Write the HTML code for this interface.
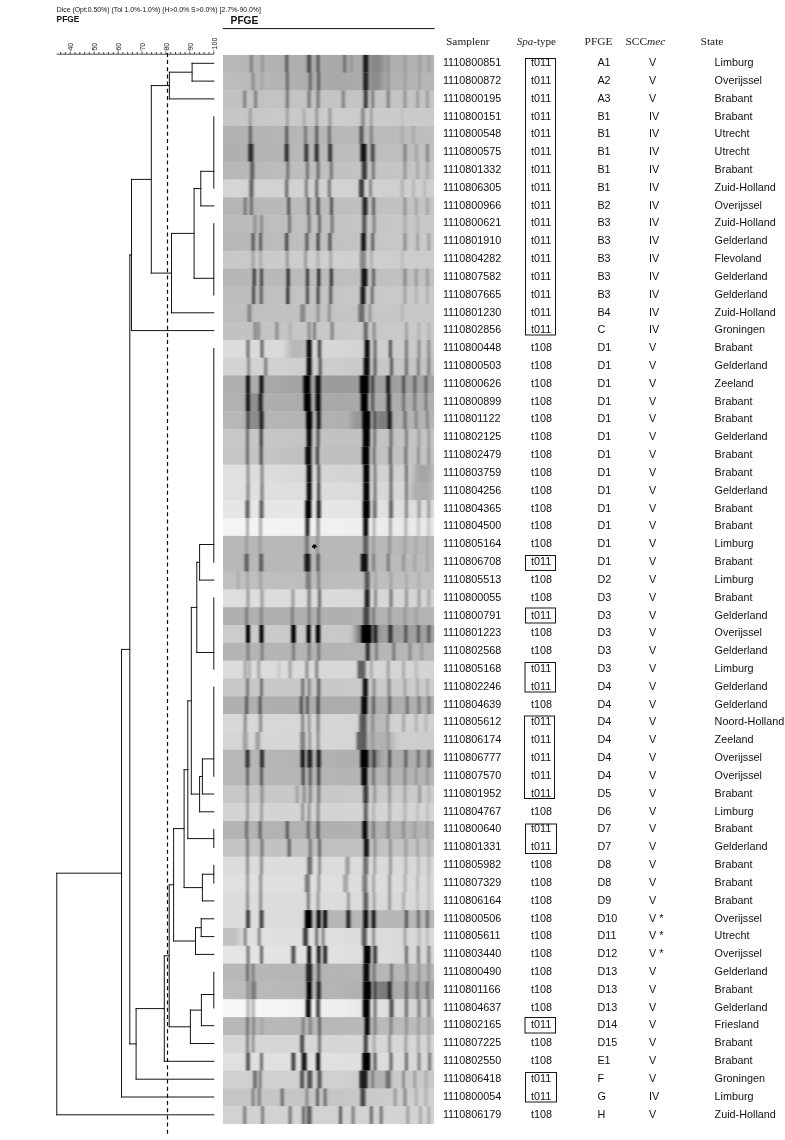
<!DOCTYPE html>
<html><head><meta charset="utf-8"><title>PFGE dendrogram</title>
<style>
html,body{margin:0;padding:0;background:#fff;}
body{width:785px;height:1140px;overflow:hidden;}
svg{display:block;font-family:"Liberation Sans",sans-serif;}
</style></head><body>
<svg width="785" height="1140" viewBox="0 0 785 1140">
<rect width="785" height="1140" fill="#fff"/>
<text x="56.8" y="12.0" font-size="6.3" fill="#111" textLength="204.0" lengthAdjust="spacingAndGlyphs">Dice (Opt:0.50%) (Tol 1.0%-1.0%) (H&gt;0.0% S&gt;0.0%) [2.7%-90.0%]</text><text x="56.6" y="21.8" font-size="8.4" font-weight="bold" fill="#111">PFGE</text><text x="230.6" y="23.8" font-size="10.2" font-weight="bold" fill="#111">PFGE</text><path d="M222.8 28.6L434.6 28.6" stroke="#111" stroke-width="1"/>
<path d="M56.6 54.2L213.8 54.2M60.6 54.2L60.6 52.0M65.4 54.2L65.4 52.0M70.2 54.2L70.2 52.0M75.0 54.2L75.0 52.0M79.8 54.2L79.8 52.0M84.6 54.2L84.6 52.0M89.3 54.2L89.3 52.0M94.1 54.2L94.1 52.0M98.9 54.2L98.9 52.0M103.7 54.2L103.7 52.0M108.5 54.2L108.5 52.0M113.3 54.2L113.3 52.0M118.1 54.2L118.1 52.0M122.8 54.2L122.8 52.0M127.6 54.2L127.6 52.0M132.4 54.2L132.4 52.0M137.2 54.2L137.2 52.0M142.0 54.2L142.0 52.0M146.8 54.2L146.8 52.0M151.6 54.2L151.6 52.0M156.3 54.2L156.3 52.0M161.1 54.2L161.1 52.0M165.9 54.2L165.9 52.0M170.7 54.2L170.7 52.0M175.5 54.2L175.5 52.0M180.3 54.2L180.3 52.0M185.1 54.2L185.1 52.0M189.8 54.2L189.8 52.0M194.6 54.2L194.6 52.0M199.4 54.2L199.4 52.0M204.2 54.2L204.2 52.0M209.0 54.2L209.0 52.0M213.8 54.2L213.8 52.0" stroke="#222" stroke-width="0.8" fill="none"/><path d="M70.2 52.2L70.2 49.6M94.1 52.2L94.1 49.6M118.1 52.2L118.1 49.6M142.0 52.2L142.0 49.6M165.9 52.2L165.9 49.6M189.8 52.2L189.8 49.6M213.8 52.2L213.8 49.6" stroke="#888" stroke-width="0.8" fill="none"/><text transform="translate(73.1 50.6) rotate(-90)" font-size="7" fill="#222">40</text><text transform="translate(97.0 50.6) rotate(-90)" font-size="7" fill="#222">50</text><text transform="translate(121.0 50.6) rotate(-90)" font-size="7" fill="#222">60</text><text transform="translate(144.9 50.6) rotate(-90)" font-size="7" fill="#222">70</text><text transform="translate(168.8 50.6) rotate(-90)" font-size="7" fill="#222">80</text><text transform="translate(192.8 50.6) rotate(-90)" font-size="7" fill="#222">90</text><text transform="translate(216.7 49.4) rotate(-90)" font-size="7" fill="#222">100</text>
<path d="M192.1 63.3L192.1 81.1M192.1 63.3L213.8 63.3M192.1 81.1L213.8 81.1M169.4 72.2L169.4 98.9M169.4 72.2L192.1 72.2M169.4 98.9L213.8 98.9M213.8 116.8L213.8 188.1M200.8 171.3L200.8 205.9M200.8 171.3L213.8 171.3M200.8 205.9L213.8 205.9M213.8 223.7L213.8 295.0M194.1 188.6L194.1 278.3M194.1 188.6L200.8 188.6M194.1 278.3L213.8 278.3M171.5 233.4L171.5 312.8M171.5 233.4L194.1 233.4M171.5 312.8L213.8 312.8M151.3 85.6L151.3 273.1M151.3 85.6L169.4 85.6M151.3 273.1L171.5 273.1M131.5 179.4L131.5 330.6M131.5 179.4L151.3 179.4M131.5 330.6L213.8 330.6M213.8 348.5L213.8 562.3M199.6 544.5L199.6 580.1M199.6 544.5L213.8 544.5M199.6 580.1L213.8 580.1M213.8 598.0L213.8 669.2M196.8 562.3L196.8 652.5M196.8 562.3L199.6 562.3M196.8 652.5L213.8 652.5M213.8 687.1L213.8 776.2M202.4 758.9L202.4 794.0M202.4 758.9L213.8 758.9M202.4 794.0L213.8 794.0M199.6 776.5L199.6 811.8M199.6 776.5L202.4 776.5M199.6 811.8L213.8 811.8M191.3 607.4L191.3 794.1M191.3 607.4L196.8 607.4M191.3 794.1L199.6 794.1M213.8 829.6L213.8 847.5M187.8 700.8L187.8 838.6M187.8 700.8L191.3 700.8M187.8 838.6L213.8 838.6M213.8 865.3L213.8 883.1M202.4 874.2L202.4 900.9M202.4 874.2L213.8 874.2M202.4 900.9L213.8 900.9M184.1 769.7L184.1 887.6M184.1 769.7L187.8 769.7M184.1 887.6L202.4 887.6M201.2 918.8L201.2 936.6M201.2 918.8L213.8 918.8M201.2 936.6L213.8 936.6M195.5 927.7L195.5 954.4M195.5 927.7L201.2 927.7M195.5 954.4L213.8 954.4M173.6 828.6L173.6 941.0M173.6 828.6L184.1 828.6M173.6 941.0L195.5 941.0M213.8 972.2L213.8 1007.9M201.4 994.5L201.4 1025.7M201.4 994.5L213.8 994.5M201.4 1025.7L213.8 1025.7M190.4 1010.1L190.4 1043.5M190.4 1010.1L201.4 1010.1M190.4 1043.5L213.8 1043.5M169.2 884.8L169.2 1026.8M169.2 884.8L173.6 884.8M169.2 1026.8L190.4 1026.8M164.3 955.8L164.3 1061.3M164.3 955.8L169.2 955.8M164.3 1061.3L213.8 1061.3M136.1 1008.6L136.1 1079.2M136.1 1008.6L164.3 1008.6M136.1 1079.2L213.8 1079.2M129.8 255.0L129.8 1043.9M129.8 255.0L131.5 255.0M129.8 1043.9L136.1 1043.9M121.5 649.4L121.5 1097.0M121.5 649.4L129.8 649.4M121.5 1097.0L213.8 1097.0M56.8 873.2L56.8 1114.8M56.8 873.2L121.5 873.2M56.8 1114.8L213.8 1114.8" stroke="#141414" stroke-width="1.0" fill="none" stroke-linecap="square"/>
<path d="M167.5 52.9L167.5 1133.8" stroke="#0a0a0a" stroke-width="1.2" stroke-dasharray="4 3.179" fill="none"/>
<defs><filter id="bl" x="-5%" y="-1%" width="110%" height="102%"><feGaussianBlur stdDeviation="1.05 0.35"/></filter><filter id="bl2" x="-5%" y="-1%" width="110%" height="102%"><feGaussianBlur stdDeviation="3 0.6"/></filter><linearGradient id="g0" gradientUnits="userSpaceOnUse" x1="235" x2="425" y1="0" y2="0"><stop offset="0" stop-color="rgb(184,184,184)"/><stop offset="0.55" stop-color="rgb(168,168,168)"/><stop offset="1" stop-color="rgb(180,180,180)"/></linearGradient><linearGradient id="g1" gradientUnits="userSpaceOnUse" x1="235" x2="425" y1="0" y2="0"><stop offset="0" stop-color="rgb(188,188,188)"/><stop offset="0.55" stop-color="rgb(168,168,168)"/><stop offset="1" stop-color="rgb(182,182,182)"/></linearGradient><linearGradient id="g2" gradientUnits="userSpaceOnUse" x1="235" x2="425" y1="0" y2="0"><stop offset="0" stop-color="rgb(194,194,194)"/><stop offset="0.55" stop-color="rgb(196,196,196)"/><stop offset="1" stop-color="rgb(196,196,196)"/></linearGradient><linearGradient id="g3" gradientUnits="userSpaceOnUse" x1="235" x2="425" y1="0" y2="0"><stop offset="0" stop-color="rgb(198,198,198)"/><stop offset="0.55" stop-color="rgb(204,204,204)"/><stop offset="1" stop-color="rgb(202,202,202)"/></linearGradient><linearGradient id="g4" gradientUnits="userSpaceOnUse" x1="235" x2="425" y1="0" y2="0"><stop offset="0" stop-color="rgb(178,178,178)"/><stop offset="0.55" stop-color="rgb(184,184,184)"/><stop offset="1" stop-color="rgb(190,190,190)"/></linearGradient><linearGradient id="g5" gradientUnits="userSpaceOnUse" x1="235" x2="425" y1="0" y2="0"><stop offset="0" stop-color="rgb(176,176,176)"/><stop offset="0.55" stop-color="rgb(188,188,188)"/><stop offset="1" stop-color="rgb(192,192,192)"/></linearGradient><linearGradient id="g6" gradientUnits="userSpaceOnUse" x1="235" x2="425" y1="0" y2="0"><stop offset="0" stop-color="rgb(184,184,184)"/><stop offset="0.55" stop-color="rgb(194,194,194)"/><stop offset="1" stop-color="rgb(198,198,198)"/></linearGradient><linearGradient id="g7" gradientUnits="userSpaceOnUse" x1="235" x2="425" y1="0" y2="0"><stop offset="0" stop-color="rgb(210,210,210)"/><stop offset="0.55" stop-color="rgb(210,210,210)"/><stop offset="1" stop-color="rgb(206,206,206)"/></linearGradient><linearGradient id="g8" gradientUnits="userSpaceOnUse" x1="235" x2="425" y1="0" y2="0"><stop offset="0" stop-color="rgb(182,182,182)"/><stop offset="0.55" stop-color="rgb(190,190,190)"/><stop offset="1" stop-color="rgb(196,196,196)"/></linearGradient><linearGradient id="g9" gradientUnits="userSpaceOnUse" x1="235" x2="425" y1="0" y2="0"><stop offset="0" stop-color="rgb(186,186,186)"/><stop offset="0.55" stop-color="rgb(196,196,196)"/><stop offset="1" stop-color="rgb(200,200,200)"/></linearGradient><linearGradient id="g10" gradientUnits="userSpaceOnUse" x1="235" x2="425" y1="0" y2="0"><stop offset="0" stop-color="rgb(184,184,184)"/><stop offset="0.55" stop-color="rgb(194,194,194)"/><stop offset="1" stop-color="rgb(202,202,202)"/></linearGradient><linearGradient id="g11" gradientUnits="userSpaceOnUse" x1="235" x2="425" y1="0" y2="0"><stop offset="0" stop-color="rgb(200,200,200)"/><stop offset="0.55" stop-color="rgb(208,208,208)"/><stop offset="1" stop-color="rgb(204,204,204)"/></linearGradient><linearGradient id="g12" gradientUnits="userSpaceOnUse" x1="235" x2="425" y1="0" y2="0"><stop offset="0" stop-color="rgb(182,182,182)"/><stop offset="0.55" stop-color="rgb(190,190,190)"/><stop offset="1" stop-color="rgb(194,194,194)"/></linearGradient><linearGradient id="g13" gradientUnits="userSpaceOnUse" x1="235" x2="425" y1="0" y2="0"><stop offset="0" stop-color="rgb(188,188,188)"/><stop offset="0.55" stop-color="rgb(198,198,198)"/><stop offset="1" stop-color="rgb(202,202,202)"/></linearGradient><linearGradient id="g14" gradientUnits="userSpaceOnUse" x1="235" x2="425" y1="0" y2="0"><stop offset="0" stop-color="rgb(190,190,190)"/><stop offset="0.55" stop-color="rgb(196,196,196)"/><stop offset="1" stop-color="rgb(200,200,200)"/></linearGradient><linearGradient id="g15" gradientUnits="userSpaceOnUse" x1="235" x2="425" y1="0" y2="0"><stop offset="0" stop-color="rgb(194,194,194)"/><stop offset="0.55" stop-color="rgb(200,200,200)"/><stop offset="1" stop-color="rgb(202,202,202)"/></linearGradient><linearGradient id="g16" gradientUnits="userSpaceOnUse" x1="235" x2="425" y1="0" y2="0"><stop offset="0" stop-color="rgb(220,220,220)"/><stop offset="0.55" stop-color="rgb(214,214,214)"/><stop offset="1" stop-color="rgb(200,200,200)"/></linearGradient><linearGradient id="g17" gradientUnits="userSpaceOnUse" x1="235" x2="425" y1="0" y2="0"><stop offset="0" stop-color="rgb(212,212,212)"/><stop offset="0.55" stop-color="rgb(204,204,204)"/><stop offset="1" stop-color="rgb(196,196,196)"/></linearGradient><linearGradient id="g18" gradientUnits="userSpaceOnUse" x1="235" x2="425" y1="0" y2="0"><stop offset="0" stop-color="rgb(176,176,176)"/><stop offset="0.55" stop-color="rgb(154,154,154)"/><stop offset="1" stop-color="rgb(164,164,164)"/></linearGradient><linearGradient id="g19" gradientUnits="userSpaceOnUse" x1="235" x2="425" y1="0" y2="0"><stop offset="0" stop-color="rgb(178,178,178)"/><stop offset="0.55" stop-color="rgb(168,168,168)"/><stop offset="1" stop-color="rgb(176,176,176)"/></linearGradient><linearGradient id="g20" gradientUnits="userSpaceOnUse" x1="235" x2="425" y1="0" y2="0"><stop offset="0" stop-color="rgb(184,184,184)"/><stop offset="0.55" stop-color="rgb(176,176,176)"/><stop offset="1" stop-color="rgb(180,180,180)"/></linearGradient><linearGradient id="g21" gradientUnits="userSpaceOnUse" x1="235" x2="425" y1="0" y2="0"><stop offset="0" stop-color="rgb(200,200,200)"/><stop offset="0.55" stop-color="rgb(194,194,194)"/><stop offset="1" stop-color="rgb(196,196,196)"/></linearGradient><linearGradient id="g22" gradientUnits="userSpaceOnUse" x1="235" x2="425" y1="0" y2="0"><stop offset="0" stop-color="rgb(198,198,198)"/><stop offset="0.55" stop-color="rgb(190,190,190)"/><stop offset="1" stop-color="rgb(196,196,196)"/></linearGradient><linearGradient id="g23" gradientUnits="userSpaceOnUse" x1="235" x2="425" y1="0" y2="0"><stop offset="0" stop-color="rgb(224,224,224)"/><stop offset="0.55" stop-color="rgb(212,212,212)"/><stop offset="1" stop-color="rgb(208,208,208)"/></linearGradient><linearGradient id="g24" gradientUnits="userSpaceOnUse" x1="235" x2="425" y1="0" y2="0"><stop offset="0" stop-color="rgb(224,224,224)"/><stop offset="0.55" stop-color="rgb(220,220,220)"/><stop offset="1" stop-color="rgb(212,212,212)"/></linearGradient><linearGradient id="g25" gradientUnits="userSpaceOnUse" x1="235" x2="425" y1="0" y2="0"><stop offset="0" stop-color="rgb(230,230,230)"/><stop offset="0.55" stop-color="rgb(230,230,230)"/><stop offset="1" stop-color="rgb(220,220,220)"/></linearGradient><linearGradient id="g26" gradientUnits="userSpaceOnUse" x1="235" x2="425" y1="0" y2="0"><stop offset="0" stop-color="rgb(244,244,244)"/><stop offset="0.55" stop-color="rgb(240,240,240)"/><stop offset="1" stop-color="rgb(232,232,232)"/></linearGradient><linearGradient id="g27" gradientUnits="userSpaceOnUse" x1="235" x2="425" y1="0" y2="0"><stop offset="0" stop-color="rgb(184,184,184)"/><stop offset="0.55" stop-color="rgb(184,184,184)"/><stop offset="1" stop-color="rgb(184,184,184)"/></linearGradient><linearGradient id="g28" gradientUnits="userSpaceOnUse" x1="235" x2="425" y1="0" y2="0"><stop offset="0" stop-color="rgb(184,184,184)"/><stop offset="0.55" stop-color="rgb(184,184,184)"/><stop offset="1" stop-color="rgb(188,188,188)"/></linearGradient><linearGradient id="g29" gradientUnits="userSpaceOnUse" x1="235" x2="425" y1="0" y2="0"><stop offset="0" stop-color="rgb(192,192,192)"/><stop offset="0.55" stop-color="rgb(188,188,188)"/><stop offset="1" stop-color="rgb(192,192,192)"/></linearGradient><linearGradient id="g30" gradientUnits="userSpaceOnUse" x1="235" x2="425" y1="0" y2="0"><stop offset="0" stop-color="rgb(222,222,222)"/><stop offset="0.55" stop-color="rgb(218,218,218)"/><stop offset="1" stop-color="rgb(212,212,212)"/></linearGradient><linearGradient id="g31" gradientUnits="userSpaceOnUse" x1="235" x2="425" y1="0" y2="0"><stop offset="0" stop-color="rgb(176,176,176)"/><stop offset="0.55" stop-color="rgb(176,176,176)"/><stop offset="1" stop-color="rgb(180,180,180)"/></linearGradient><linearGradient id="g32" gradientUnits="userSpaceOnUse" x1="235" x2="425" y1="0" y2="0"><stop offset="0" stop-color="rgb(204,204,204)"/><stop offset="0.55" stop-color="rgb(200,200,200)"/><stop offset="1" stop-color="rgb(200,200,200)"/></linearGradient><linearGradient id="g33" gradientUnits="userSpaceOnUse" x1="235" x2="425" y1="0" y2="0"><stop offset="0" stop-color="rgb(180,180,180)"/><stop offset="0.55" stop-color="rgb(180,180,180)"/><stop offset="1" stop-color="rgb(184,184,184)"/></linearGradient><linearGradient id="g34" gradientUnits="userSpaceOnUse" x1="235" x2="425" y1="0" y2="0"><stop offset="0" stop-color="rgb(220,220,220)"/><stop offset="0.55" stop-color="rgb(216,216,216)"/><stop offset="1" stop-color="rgb(212,212,212)"/></linearGradient><linearGradient id="g35" gradientUnits="userSpaceOnUse" x1="235" x2="425" y1="0" y2="0"><stop offset="0" stop-color="rgb(200,200,200)"/><stop offset="0.55" stop-color="rgb(200,200,200)"/><stop offset="1" stop-color="rgb(204,204,204)"/></linearGradient><linearGradient id="g36" gradientUnits="userSpaceOnUse" x1="235" x2="425" y1="0" y2="0"><stop offset="0" stop-color="rgb(176,176,176)"/><stop offset="0.55" stop-color="rgb(172,172,172)"/><stop offset="1" stop-color="rgb(176,176,176)"/></linearGradient><linearGradient id="g37" gradientUnits="userSpaceOnUse" x1="235" x2="425" y1="0" y2="0"><stop offset="0" stop-color="rgb(216,216,216)"/><stop offset="0.55" stop-color="rgb(214,214,214)"/><stop offset="1" stop-color="rgb(208,208,208)"/></linearGradient><linearGradient id="g38" gradientUnits="userSpaceOnUse" x1="235" x2="425" y1="0" y2="0"><stop offset="0" stop-color="rgb(214,214,214)"/><stop offset="0.55" stop-color="rgb(214,214,214)"/><stop offset="1" stop-color="rgb(204,204,204)"/></linearGradient><linearGradient id="g39" gradientUnits="userSpaceOnUse" x1="235" x2="425" y1="0" y2="0"><stop offset="0" stop-color="rgb(184,184,184)"/><stop offset="0.55" stop-color="rgb(176,176,176)"/><stop offset="1" stop-color="rgb(172,172,172)"/></linearGradient><linearGradient id="g40" gradientUnits="userSpaceOnUse" x1="235" x2="425" y1="0" y2="0"><stop offset="0" stop-color="rgb(184,184,184)"/><stop offset="0.55" stop-color="rgb(180,180,180)"/><stop offset="1" stop-color="rgb(180,180,180)"/></linearGradient><linearGradient id="g41" gradientUnits="userSpaceOnUse" x1="235" x2="425" y1="0" y2="0"><stop offset="0" stop-color="rgb(200,200,200)"/><stop offset="0.55" stop-color="rgb(200,200,200)"/><stop offset="1" stop-color="rgb(204,204,204)"/></linearGradient><linearGradient id="g42" gradientUnits="userSpaceOnUse" x1="235" x2="425" y1="0" y2="0"><stop offset="0" stop-color="rgb(212,212,212)"/><stop offset="0.55" stop-color="rgb(212,212,212)"/><stop offset="1" stop-color="rgb(212,212,212)"/></linearGradient><linearGradient id="g43" gradientUnits="userSpaceOnUse" x1="235" x2="425" y1="0" y2="0"><stop offset="0" stop-color="rgb(180,180,180)"/><stop offset="0.55" stop-color="rgb(176,176,176)"/><stop offset="1" stop-color="rgb(180,180,180)"/></linearGradient><linearGradient id="g44" gradientUnits="userSpaceOnUse" x1="235" x2="425" y1="0" y2="0"><stop offset="0" stop-color="rgb(196,196,196)"/><stop offset="0.55" stop-color="rgb(192,192,192)"/><stop offset="1" stop-color="rgb(196,196,196)"/></linearGradient><linearGradient id="g45" gradientUnits="userSpaceOnUse" x1="235" x2="425" y1="0" y2="0"><stop offset="0" stop-color="rgb(220,220,220)"/><stop offset="0.55" stop-color="rgb(220,220,220)"/><stop offset="1" stop-color="rgb(216,216,216)"/></linearGradient><linearGradient id="g46" gradientUnits="userSpaceOnUse" x1="235" x2="425" y1="0" y2="0"><stop offset="0" stop-color="rgb(224,224,224)"/><stop offset="0.55" stop-color="rgb(222,222,222)"/><stop offset="1" stop-color="rgb(218,218,218)"/></linearGradient><linearGradient id="g47" gradientUnits="userSpaceOnUse" x1="235" x2="425" y1="0" y2="0"><stop offset="0" stop-color="rgb(220,220,220)"/><stop offset="0.55" stop-color="rgb(220,220,220)"/><stop offset="1" stop-color="rgb(216,216,216)"/></linearGradient><linearGradient id="g48" gradientUnits="userSpaceOnUse" x1="235" x2="425" y1="0" y2="0"><stop offset="0" stop-color="rgb(220,220,220)"/><stop offset="0.55" stop-color="rgb(220,220,220)"/><stop offset="1" stop-color="rgb(220,220,220)"/></linearGradient><linearGradient id="g49" gradientUnits="userSpaceOnUse" x1="235" x2="425" y1="0" y2="0"><stop offset="0" stop-color="rgb(224,224,224)"/><stop offset="0.55" stop-color="rgb(222,222,222)"/><stop offset="1" stop-color="rgb(216,216,216)"/></linearGradient><linearGradient id="g50" gradientUnits="userSpaceOnUse" x1="235" x2="425" y1="0" y2="0"><stop offset="0" stop-color="rgb(230,230,230)"/><stop offset="0.55" stop-color="rgb(224,224,224)"/><stop offset="1" stop-color="rgb(214,214,214)"/></linearGradient><linearGradient id="g51" gradientUnits="userSpaceOnUse" x1="235" x2="425" y1="0" y2="0"><stop offset="0" stop-color="rgb(184,184,184)"/><stop offset="0.55" stop-color="rgb(180,180,180)"/><stop offset="1" stop-color="rgb(184,184,184)"/></linearGradient><linearGradient id="g52" gradientUnits="userSpaceOnUse" x1="235" x2="425" y1="0" y2="0"><stop offset="0" stop-color="rgb(188,188,188)"/><stop offset="0.55" stop-color="rgb(180,180,180)"/><stop offset="1" stop-color="rgb(168,168,168)"/></linearGradient><linearGradient id="g53" gradientUnits="userSpaceOnUse" x1="235" x2="425" y1="0" y2="0"><stop offset="0" stop-color="rgb(248,248,248)"/><stop offset="0.55" stop-color="rgb(238,238,238)"/><stop offset="1" stop-color="rgb(208,208,208)"/></linearGradient><linearGradient id="g54" gradientUnits="userSpaceOnUse" x1="235" x2="425" y1="0" y2="0"><stop offset="0" stop-color="rgb(184,184,184)"/><stop offset="0.55" stop-color="rgb(184,184,184)"/><stop offset="1" stop-color="rgb(188,188,188)"/></linearGradient><linearGradient id="g55" gradientUnits="userSpaceOnUse" x1="235" x2="425" y1="0" y2="0"><stop offset="0" stop-color="rgb(214,214,214)"/><stop offset="0.55" stop-color="rgb(214,214,214)"/><stop offset="1" stop-color="rgb(214,214,214)"/></linearGradient><linearGradient id="g56" gradientUnits="userSpaceOnUse" x1="235" x2="425" y1="0" y2="0"><stop offset="0" stop-color="rgb(224,224,224)"/><stop offset="0.55" stop-color="rgb(224,224,224)"/><stop offset="1" stop-color="rgb(216,216,216)"/></linearGradient><linearGradient id="g57" gradientUnits="userSpaceOnUse" x1="235" x2="425" y1="0" y2="0"><stop offset="0" stop-color="rgb(208,208,208)"/><stop offset="0.55" stop-color="rgb(208,208,208)"/><stop offset="1" stop-color="rgb(200,200,200)"/></linearGradient><linearGradient id="g58" gradientUnits="userSpaceOnUse" x1="235" x2="425" y1="0" y2="0"><stop offset="0" stop-color="rgb(198,198,198)"/><stop offset="0.55" stop-color="rgb(198,198,198)"/><stop offset="1" stop-color="rgb(208,208,208)"/></linearGradient><linearGradient id="g59" gradientUnits="userSpaceOnUse" x1="235" x2="425" y1="0" y2="0"><stop offset="0" stop-color="rgb(210,210,210)"/><stop offset="0.55" stop-color="rgb(210,210,210)"/><stop offset="1" stop-color="rgb(212,212,212)"/></linearGradient><clipPath id="gc"><rect x="222.9" y="54.7" width="211.4" height="1069.3"/></clipPath></defs><g clip-path="url(#gc)"><rect x="222.9" y="54.70" width="211.4" height="18.32" fill="url(#g0)"/><rect x="222.9" y="72.52" width="211.4" height="18.32" fill="url(#g1)"/><rect x="222.9" y="90.34" width="211.4" height="18.32" fill="url(#g2)"/><rect x="222.9" y="108.17" width="211.4" height="18.32" fill="url(#g3)"/><rect x="222.9" y="125.99" width="211.4" height="18.32" fill="url(#g4)"/><rect x="222.9" y="143.81" width="211.4" height="18.32" fill="url(#g5)"/><rect x="222.9" y="161.63" width="211.4" height="18.32" fill="url(#g6)"/><rect x="222.9" y="179.45" width="211.4" height="18.32" fill="url(#g7)"/><rect x="222.9" y="197.28" width="211.4" height="18.32" fill="url(#g8)"/><rect x="222.9" y="215.10" width="211.4" height="18.32" fill="url(#g9)"/><rect x="222.9" y="232.92" width="211.4" height="18.32" fill="url(#g10)"/><rect x="222.9" y="250.74" width="211.4" height="18.32" fill="url(#g11)"/><rect x="222.9" y="268.56" width="211.4" height="18.32" fill="url(#g12)"/><rect x="222.9" y="286.39" width="211.4" height="18.32" fill="url(#g13)"/><rect x="222.9" y="304.21" width="211.4" height="18.32" fill="url(#g14)"/><rect x="222.9" y="322.03" width="211.4" height="18.32" fill="url(#g15)"/><rect x="222.9" y="339.85" width="211.4" height="18.32" fill="url(#g16)"/><rect x="222.9" y="357.67" width="211.4" height="18.32" fill="url(#g17)"/><rect x="222.9" y="375.50" width="211.4" height="18.32" fill="url(#g18)"/><rect x="222.9" y="393.32" width="211.4" height="18.32" fill="url(#g19)"/><rect x="222.9" y="411.14" width="211.4" height="18.32" fill="url(#g20)"/><rect x="222.9" y="428.96" width="211.4" height="18.32" fill="url(#g21)"/><rect x="222.9" y="446.78" width="211.4" height="18.32" fill="url(#g22)"/><rect x="222.9" y="464.61" width="211.4" height="18.32" fill="url(#g23)"/><rect x="222.9" y="482.43" width="211.4" height="18.32" fill="url(#g24)"/><rect x="222.9" y="500.25" width="211.4" height="18.32" fill="url(#g25)"/><rect x="222.9" y="518.07" width="211.4" height="18.32" fill="url(#g26)"/><rect x="222.9" y="535.89" width="211.4" height="18.32" fill="url(#g27)"/><rect x="222.9" y="553.72" width="211.4" height="18.32" fill="url(#g28)"/><rect x="222.9" y="571.54" width="211.4" height="18.32" fill="url(#g29)"/><rect x="222.9" y="589.36" width="211.4" height="18.32" fill="url(#g30)"/><rect x="222.9" y="607.18" width="211.4" height="18.32" fill="url(#g31)"/><rect x="222.9" y="625.00" width="211.4" height="18.32" fill="url(#g32)"/><rect x="222.9" y="642.83" width="211.4" height="18.32" fill="url(#g33)"/><rect x="222.9" y="660.65" width="211.4" height="18.32" fill="url(#g34)"/><rect x="222.9" y="678.47" width="211.4" height="18.32" fill="url(#g35)"/><rect x="222.9" y="696.29" width="211.4" height="18.32" fill="url(#g36)"/><rect x="222.9" y="714.11" width="211.4" height="18.32" fill="url(#g37)"/><rect x="222.9" y="731.94" width="211.4" height="18.32" fill="url(#g38)"/><rect x="222.9" y="749.76" width="211.4" height="18.32" fill="url(#g39)"/><rect x="222.9" y="767.58" width="211.4" height="18.32" fill="url(#g40)"/><rect x="222.9" y="785.40" width="211.4" height="18.32" fill="url(#g41)"/><rect x="222.9" y="803.22" width="211.4" height="18.32" fill="url(#g42)"/><rect x="222.9" y="821.05" width="211.4" height="18.32" fill="url(#g43)"/><rect x="222.9" y="838.87" width="211.4" height="18.32" fill="url(#g44)"/><rect x="222.9" y="856.69" width="211.4" height="18.32" fill="url(#g45)"/><rect x="222.9" y="874.51" width="211.4" height="18.32" fill="url(#g46)"/><rect x="222.9" y="892.33" width="211.4" height="18.32" fill="url(#g47)"/><rect x="222.9" y="910.16" width="211.4" height="18.32" fill="url(#g48)"/><rect x="222.9" y="927.98" width="211.4" height="18.32" fill="url(#g49)"/><rect x="222.9" y="945.80" width="211.4" height="18.32" fill="url(#g50)"/><rect x="222.9" y="963.62" width="211.4" height="18.32" fill="url(#g51)"/><rect x="222.9" y="981.44" width="211.4" height="18.32" fill="url(#g52)"/><rect x="222.9" y="999.27" width="211.4" height="18.32" fill="url(#g53)"/><rect x="222.9" y="1017.09" width="211.4" height="18.32" fill="url(#g54)"/><rect x="222.9" y="1034.91" width="211.4" height="18.32" fill="url(#g55)"/><rect x="222.9" y="1052.73" width="211.4" height="18.32" fill="url(#g56)"/><rect x="222.9" y="1070.55" width="211.4" height="18.32" fill="url(#g57)"/><rect x="222.9" y="1088.38" width="211.4" height="18.32" fill="url(#g58)"/><rect x="222.9" y="1106.20" width="211.4" height="18.32" fill="url(#g59)"/><g filter="url(#bl2)"><rect x="368.5" y="54.70" width="15.4" height="17.82" fill="#000" fill-opacity="0.22"/><rect x="368.5" y="72.52" width="14.0" height="17.82" fill="#000" fill-opacity="0.20"/><rect x="220.0" y="179.45" width="28.0" height="17.82" fill="#fff" fill-opacity="0.06"/><rect x="287.3" y="339.85" width="19.6" height="17.82" fill="#000" fill-opacity="0.15"/><rect x="248.0" y="393.32" width="12.6" height="17.82" fill="#000" fill-opacity="0.20"/><rect x="248.0" y="411.14" width="13.5" height="17.82" fill="#000" fill-opacity="0.25"/><rect x="351.7" y="411.14" width="14.0" height="17.82" fill="#000" fill-opacity="0.15"/><rect x="375.5" y="411.14" width="14.0" height="17.82" fill="#000" fill-opacity="0.30"/><rect x="413.4" y="464.61" width="19.6" height="17.82" fill="#000" fill-opacity="0.20"/><rect x="410.6" y="482.43" width="22.4" height="17.82" fill="#000" fill-opacity="0.18"/><rect x="354.5" y="625.00" width="84.1" height="17.82" fill="#000" fill-opacity="0.20"/><rect x="357.3" y="625.00" width="19.6" height="17.82" fill="#000" fill-opacity="0.30"/><rect x="361.5" y="714.11" width="26.6" height="17.82" fill="#000" fill-opacity="0.12"/><rect x="360.1" y="731.94" width="33.6" height="17.82" fill="#000" fill-opacity="0.15"/><rect x="365.7" y="749.76" width="14.0" height="17.82" fill="#000" fill-opacity="0.20"/><rect x="306.3" y="910.16" width="135.1" height="17.82" fill="#000" fill-opacity="0.17"/><rect x="217.2" y="927.98" width="22.4" height="17.82" fill="#000" fill-opacity="0.14"/><rect x="375.5" y="981.44" width="14.0" height="17.82" fill="#000" fill-opacity="0.30"/><rect x="365.7" y="1070.55" width="25.2" height="17.82" fill="#000" fill-opacity="0.12"/></g><g filter="url(#bl)"><rect x="249.9" y="54.70" width="3.0" height="17.82" fill="#000" fill-opacity="0.30"/><rect x="261.1" y="54.70" width="3.0" height="17.82" fill="#000" fill-opacity="0.15"/><rect x="285.2" y="54.70" width="3.0" height="17.82" fill="#000" fill-opacity="0.50"/><rect x="307.1" y="54.70" width="4.0" height="17.82" fill="#000" fill-opacity="0.55"/><rect x="316.6" y="54.70" width="3.0" height="17.82" fill="#000" fill-opacity="0.50"/><rect x="343.2" y="54.70" width="3.0" height="17.82" fill="#000" fill-opacity="0.35"/><rect x="350.2" y="54.70" width="3.0" height="17.82" fill="#000" fill-opacity="0.10"/><rect x="363.2" y="54.70" width="5.0" height="17.82" fill="#000" fill-opacity="0.85"/><rect x="386.7" y="54.70" width="3.0" height="17.82" fill="#000" fill-opacity="0.15"/><rect x="403.5" y="54.70" width="3.0" height="17.82" fill="#000" fill-opacity="0.12"/><rect x="418.1" y="54.70" width="3.0" height="17.82" fill="#000" fill-opacity="0.12"/><rect x="427.3" y="54.70" width="3.0" height="17.82" fill="#000" fill-opacity="0.10"/><rect x="251.6" y="72.52" width="3.0" height="17.82" fill="#000" fill-opacity="0.25"/><rect x="260.5" y="72.52" width="3.0" height="17.82" fill="#000" fill-opacity="0.08"/><rect x="285.8" y="72.52" width="3.0" height="17.82" fill="#000" fill-opacity="0.40"/><rect x="308.7" y="72.52" width="3.0" height="17.82" fill="#000" fill-opacity="0.40"/><rect x="317.2" y="72.52" width="3.0" height="17.82" fill="#000" fill-opacity="0.45"/><rect x="363.2" y="72.52" width="5.0" height="17.82" fill="#000" fill-opacity="0.80"/><rect x="386.7" y="72.52" width="3.0" height="17.82" fill="#000" fill-opacity="0.15"/><rect x="403.5" y="72.52" width="3.0" height="17.82" fill="#000" fill-opacity="0.10"/><rect x="418.1" y="72.52" width="3.0" height="17.82" fill="#000" fill-opacity="0.10"/><rect x="243.2" y="90.34" width="3.0" height="17.82" fill="#000" fill-opacity="0.35"/><rect x="254.1" y="90.34" width="3.0" height="17.82" fill="#000" fill-opacity="0.35"/><rect x="285.8" y="90.34" width="3.0" height="17.82" fill="#000" fill-opacity="0.40"/><rect x="307.6" y="90.34" width="3.0" height="17.82" fill="#000" fill-opacity="0.40"/><rect x="316.6" y="90.34" width="3.0" height="17.82" fill="#000" fill-opacity="0.40"/><rect x="341.8" y="90.34" width="3.0" height="17.82" fill="#000" fill-opacity="0.35"/><rect x="363.7" y="90.34" width="4.0" height="17.82" fill="#000" fill-opacity="0.70"/><rect x="371.2" y="90.34" width="3.0" height="17.82" fill="#000" fill-opacity="0.35"/><rect x="386.7" y="90.34" width="3.0" height="17.82" fill="#000" fill-opacity="0.35"/><rect x="403.5" y="90.34" width="3.0" height="17.82" fill="#000" fill-opacity="0.25"/><rect x="416.1" y="90.34" width="3.0" height="17.82" fill="#000" fill-opacity="0.20"/><rect x="425.9" y="90.34" width="3.0" height="17.82" fill="#000" fill-opacity="0.20"/><rect x="248.8" y="108.17" width="3.0" height="17.82" fill="#000" fill-opacity="0.20"/><rect x="285.8" y="108.17" width="3.0" height="17.82" fill="#000" fill-opacity="0.20"/><rect x="302.6" y="108.17" width="3.0" height="17.82" fill="#000" fill-opacity="0.15"/><rect x="315.2" y="108.17" width="3.0" height="17.82" fill="#000" fill-opacity="0.25"/><rect x="328.4" y="108.17" width="3.0" height="17.82" fill="#000" fill-opacity="0.25"/><rect x="360.9" y="108.17" width="4.0" height="17.82" fill="#000" fill-opacity="0.30"/><rect x="369.8" y="108.17" width="3.0" height="17.82" fill="#000" fill-opacity="0.20"/><rect x="400.7" y="108.17" width="3.0" height="17.82" fill="#000" fill-opacity="0.05"/><rect x="248.8" y="125.99" width="3.0" height="17.82" fill="#000" fill-opacity="0.45"/><rect x="285.2" y="125.99" width="3.0" height="17.82" fill="#000" fill-opacity="0.50"/><rect x="304.0" y="125.99" width="3.0" height="17.82" fill="#000" fill-opacity="0.35"/><rect x="315.2" y="125.99" width="3.0" height="17.82" fill="#000" fill-opacity="0.50"/><rect x="327.8" y="125.99" width="3.0" height="17.82" fill="#000" fill-opacity="0.40"/><rect x="359.5" y="125.99" width="4.0" height="17.82" fill="#000" fill-opacity="0.55"/><rect x="369.8" y="125.99" width="3.0" height="17.82" fill="#000" fill-opacity="0.30"/><rect x="400.7" y="125.99" width="3.0" height="17.82" fill="#000" fill-opacity="0.10"/><rect x="411.9" y="125.99" width="3.0" height="17.82" fill="#000" fill-opacity="0.10"/><rect x="248.3" y="143.81" width="5.0" height="17.82" fill="#000" fill-opacity="0.75"/><rect x="284.7" y="143.81" width="4.0" height="17.82" fill="#000" fill-opacity="0.75"/><rect x="304.3" y="143.81" width="4.0" height="17.82" fill="#000" fill-opacity="0.70"/><rect x="314.7" y="143.81" width="4.0" height="17.82" fill="#000" fill-opacity="0.75"/><rect x="328.1" y="143.81" width="4.0" height="17.82" fill="#000" fill-opacity="0.70"/><rect x="360.5" y="143.81" width="6.0" height="17.82" fill="#000" fill-opacity="0.90"/><rect x="370.7" y="143.81" width="4.0" height="17.82" fill="#000" fill-opacity="0.60"/><rect x="403.5" y="143.81" width="3.0" height="17.82" fill="#000" fill-opacity="0.35"/><rect x="414.7" y="143.81" width="3.0" height="17.82" fill="#000" fill-opacity="0.15"/><rect x="425.9" y="143.81" width="3.0" height="17.82" fill="#000" fill-opacity="0.30"/><rect x="250.2" y="161.63" width="4.0" height="17.82" fill="#000" fill-opacity="0.50"/><rect x="286.3" y="161.63" width="3.0" height="17.82" fill="#000" fill-opacity="0.40"/><rect x="305.9" y="161.63" width="3.0" height="17.82" fill="#000" fill-opacity="0.40"/><rect x="316.6" y="161.63" width="3.0" height="17.82" fill="#000" fill-opacity="0.45"/><rect x="329.8" y="161.63" width="3.0" height="17.82" fill="#000" fill-opacity="0.40"/><rect x="361.8" y="161.63" width="5.0" height="17.82" fill="#000" fill-opacity="0.70"/><rect x="371.8" y="161.63" width="3.0" height="17.82" fill="#000" fill-opacity="0.40"/><rect x="403.5" y="161.63" width="3.0" height="17.82" fill="#000" fill-opacity="0.25"/><rect x="416.1" y="161.63" width="3.0" height="17.82" fill="#000" fill-opacity="0.15"/><rect x="425.9" y="161.63" width="3.0" height="17.82" fill="#000" fill-opacity="0.15"/><rect x="249.4" y="179.45" width="4.0" height="17.82" fill="#000" fill-opacity="0.55"/><rect x="285.2" y="179.45" width="3.0" height="17.82" fill="#000" fill-opacity="0.50"/><rect x="304.8" y="179.45" width="3.0" height="17.82" fill="#000" fill-opacity="0.40"/><rect x="315.2" y="179.45" width="3.0" height="17.82" fill="#000" fill-opacity="0.50"/><rect x="327.8" y="179.45" width="3.0" height="17.82" fill="#000" fill-opacity="0.45"/><rect x="359.0" y="179.45" width="5.0" height="17.82" fill="#000" fill-opacity="0.70"/><rect x="369.0" y="179.45" width="3.0" height="17.82" fill="#000" fill-opacity="0.35"/><rect x="400.7" y="179.45" width="3.0" height="17.82" fill="#000" fill-opacity="0.15"/><rect x="411.9" y="179.45" width="3.0" height="17.82" fill="#000" fill-opacity="0.12"/><rect x="423.1" y="179.45" width="3.0" height="17.82" fill="#000" fill-opacity="0.10"/><rect x="243.7" y="197.28" width="3.0" height="17.82" fill="#000" fill-opacity="0.35"/><rect x="249.9" y="197.28" width="3.0" height="17.82" fill="#000" fill-opacity="0.40"/><rect x="287.2" y="197.28" width="3.0" height="17.82" fill="#000" fill-opacity="0.55"/><rect x="306.8" y="197.28" width="3.0" height="17.82" fill="#000" fill-opacity="0.50"/><rect x="316.6" y="197.28" width="3.0" height="17.82" fill="#000" fill-opacity="0.60"/><rect x="330.0" y="197.28" width="3.0" height="17.82" fill="#000" fill-opacity="0.55"/><rect x="362.4" y="197.28" width="5.0" height="17.82" fill="#000" fill-opacity="0.80"/><rect x="372.1" y="197.28" width="3.0" height="17.82" fill="#000" fill-opacity="0.50"/><rect x="403.5" y="197.28" width="3.0" height="17.82" fill="#000" fill-opacity="0.25"/><rect x="414.7" y="197.28" width="3.0" height="17.82" fill="#000" fill-opacity="0.15"/><rect x="425.9" y="197.28" width="3.0" height="17.82" fill="#000" fill-opacity="0.15"/><rect x="253.5" y="215.10" width="3.0" height="17.82" fill="#000" fill-opacity="0.25"/><rect x="260.0" y="215.10" width="3.0" height="17.82" fill="#000" fill-opacity="0.25"/><rect x="288.0" y="215.10" width="3.0" height="17.82" fill="#000" fill-opacity="0.40"/><rect x="307.6" y="215.10" width="3.0" height="17.82" fill="#000" fill-opacity="0.40"/><rect x="318.0" y="215.10" width="3.0" height="17.82" fill="#000" fill-opacity="0.45"/><rect x="330.6" y="215.10" width="3.0" height="17.82" fill="#000" fill-opacity="0.40"/><rect x="362.3" y="215.10" width="4.0" height="17.82" fill="#000" fill-opacity="0.60"/><rect x="372.6" y="215.10" width="3.0" height="17.82" fill="#000" fill-opacity="0.35"/><rect x="403.5" y="215.10" width="3.0" height="17.82" fill="#000" fill-opacity="0.15"/><rect x="416.1" y="215.10" width="3.0" height="17.82" fill="#000" fill-opacity="0.10"/><rect x="251.6" y="232.92" width="3.0" height="17.82" fill="#000" fill-opacity="0.55"/><rect x="259.1" y="232.92" width="3.0" height="17.82" fill="#000" fill-opacity="0.50"/><rect x="285.2" y="232.92" width="3.0" height="17.82" fill="#000" fill-opacity="0.65"/><rect x="305.4" y="232.92" width="3.0" height="17.82" fill="#000" fill-opacity="0.55"/><rect x="316.6" y="232.92" width="3.0" height="17.82" fill="#000" fill-opacity="0.65"/><rect x="328.4" y="232.92" width="3.0" height="17.82" fill="#000" fill-opacity="0.60"/><rect x="361.0" y="232.92" width="5.0" height="17.82" fill="#000" fill-opacity="0.85"/><rect x="371.2" y="232.92" width="3.0" height="17.82" fill="#000" fill-opacity="0.50"/><rect x="403.5" y="232.92" width="3.0" height="17.82" fill="#000" fill-opacity="0.30"/><rect x="416.1" y="232.92" width="3.0" height="17.82" fill="#000" fill-opacity="0.20"/><rect x="427.3" y="232.92" width="3.0" height="17.82" fill="#000" fill-opacity="0.20"/><rect x="251.6" y="250.74" width="3.0" height="17.82" fill="#000" fill-opacity="0.20"/><rect x="259.1" y="250.74" width="3.0" height="17.82" fill="#000" fill-opacity="0.15"/><rect x="285.8" y="250.74" width="3.0" height="17.82" fill="#000" fill-opacity="0.25"/><rect x="304.0" y="250.74" width="3.0" height="17.82" fill="#000" fill-opacity="0.25"/><rect x="316.6" y="250.74" width="3.0" height="17.82" fill="#000" fill-opacity="0.15"/><rect x="329.2" y="250.74" width="3.0" height="17.82" fill="#000" fill-opacity="0.20"/><rect x="359.9" y="250.74" width="6.0" height="17.82" fill="#000" fill-opacity="0.35"/><rect x="369.8" y="250.74" width="3.0" height="17.82" fill="#000" fill-opacity="0.15"/><rect x="400.7" y="250.74" width="3.0" height="17.82" fill="#000" fill-opacity="0.08"/><rect x="252.7" y="268.56" width="3.0" height="17.82" fill="#000" fill-opacity="0.70"/><rect x="260.0" y="268.56" width="3.0" height="17.82" fill="#000" fill-opacity="0.60"/><rect x="286.6" y="268.56" width="3.0" height="17.82" fill="#000" fill-opacity="0.80"/><rect x="305.9" y="268.56" width="3.0" height="17.82" fill="#000" fill-opacity="0.70"/><rect x="317.2" y="268.56" width="3.0" height="17.82" fill="#000" fill-opacity="0.80"/><rect x="329.8" y="268.56" width="3.0" height="17.82" fill="#000" fill-opacity="0.75"/><rect x="361.3" y="268.56" width="6.0" height="17.82" fill="#000" fill-opacity="0.90"/><rect x="372.1" y="268.56" width="3.0" height="17.82" fill="#000" fill-opacity="0.50"/><rect x="403.5" y="268.56" width="3.0" height="17.82" fill="#000" fill-opacity="0.30"/><rect x="414.7" y="268.56" width="3.0" height="17.82" fill="#000" fill-opacity="0.20"/><rect x="425.9" y="268.56" width="3.0" height="17.82" fill="#000" fill-opacity="0.20"/><rect x="252.1" y="286.39" width="3.0" height="17.82" fill="#000" fill-opacity="0.60"/><rect x="259.7" y="286.39" width="3.0" height="17.82" fill="#000" fill-opacity="0.50"/><rect x="286.3" y="286.39" width="3.0" height="17.82" fill="#000" fill-opacity="0.75"/><rect x="305.9" y="286.39" width="3.0" height="17.82" fill="#000" fill-opacity="0.60"/><rect x="316.6" y="286.39" width="3.0" height="17.82" fill="#000" fill-opacity="0.65"/><rect x="329.2" y="286.39" width="3.0" height="17.82" fill="#000" fill-opacity="0.55"/><rect x="360.4" y="286.39" width="5.0" height="17.82" fill="#000" fill-opacity="0.85"/><rect x="370.7" y="286.39" width="3.0" height="17.82" fill="#000" fill-opacity="0.45"/><rect x="403.5" y="286.39" width="3.0" height="17.82" fill="#000" fill-opacity="0.20"/><rect x="414.7" y="286.39" width="3.0" height="17.82" fill="#000" fill-opacity="0.12"/><rect x="425.9" y="286.39" width="3.0" height="17.82" fill="#000" fill-opacity="0.12"/><rect x="247.4" y="304.21" width="4.0" height="17.82" fill="#000" fill-opacity="0.30"/><rect x="300.2" y="304.21" width="5.0" height="17.82" fill="#000" fill-opacity="0.30"/><rect x="316.6" y="304.21" width="3.0" height="17.82" fill="#000" fill-opacity="0.25"/><rect x="327.8" y="304.21" width="3.0" height="17.82" fill="#000" fill-opacity="0.25"/><rect x="358.5" y="304.21" width="6.0" height="17.82" fill="#000" fill-opacity="0.45"/><rect x="368.4" y="304.21" width="3.0" height="17.82" fill="#000" fill-opacity="0.25"/><rect x="400.7" y="304.21" width="3.0" height="17.82" fill="#000" fill-opacity="0.08"/><rect x="253.5" y="322.03" width="3.0" height="17.82" fill="#000" fill-opacity="0.30"/><rect x="257.2" y="322.03" width="3.0" height="17.82" fill="#000" fill-opacity="0.25"/><rect x="275.4" y="322.03" width="3.0" height="17.82" fill="#000" fill-opacity="0.30"/><rect x="288.6" y="322.03" width="3.0" height="17.82" fill="#000" fill-opacity="0.10"/><rect x="307.6" y="322.03" width="3.0" height="17.82" fill="#000" fill-opacity="0.30"/><rect x="313.0" y="322.03" width="3.0" height="17.82" fill="#000" fill-opacity="0.35"/><rect x="330.6" y="322.03" width="3.0" height="17.82" fill="#000" fill-opacity="0.35"/><rect x="363.7" y="322.03" width="4.0" height="17.82" fill="#000" fill-opacity="0.50"/><rect x="372.6" y="322.03" width="3.0" height="17.82" fill="#000" fill-opacity="0.30"/><rect x="404.9" y="322.03" width="3.0" height="17.82" fill="#000" fill-opacity="0.20"/><rect x="417.5" y="322.03" width="3.0" height="17.82" fill="#000" fill-opacity="0.12"/><rect x="427.3" y="322.03" width="3.0" height="17.82" fill="#000" fill-opacity="0.10"/><rect x="246.5" y="339.85" width="3.0" height="17.82" fill="#000" fill-opacity="0.50"/><rect x="260.5" y="339.85" width="3.0" height="17.82" fill="#000" fill-opacity="0.55"/><rect x="306.6" y="339.85" width="5.0" height="17.82" fill="#000" fill-opacity="0.95"/><rect x="317.7" y="339.85" width="3.5" height="17.82" fill="#000" fill-opacity="0.65"/><rect x="364.6" y="339.85" width="5.0" height="17.82" fill="#000" fill-opacity="0.95"/><rect x="373.5" y="339.85" width="3.0" height="17.82" fill="#000" fill-opacity="0.50"/><rect x="388.9" y="339.85" width="3.0" height="17.82" fill="#000" fill-opacity="0.60"/><rect x="404.9" y="339.85" width="3.0" height="17.82" fill="#000" fill-opacity="0.40"/><rect x="417.5" y="339.85" width="3.0" height="17.82" fill="#000" fill-opacity="0.30"/><rect x="427.3" y="339.85" width="3.0" height="17.82" fill="#000" fill-opacity="0.30"/><rect x="247.1" y="357.67" width="3.0" height="17.82" fill="#000" fill-opacity="0.35"/><rect x="264.2" y="357.67" width="3.0" height="17.82" fill="#000" fill-opacity="0.40"/><rect x="306.6" y="357.67" width="5.0" height="17.82" fill="#000" fill-opacity="0.95"/><rect x="318.6" y="357.67" width="3.0" height="17.82" fill="#000" fill-opacity="0.60"/><rect x="363.6" y="357.67" width="6.0" height="17.82" fill="#000" fill-opacity="0.95"/><rect x="373.5" y="357.67" width="3.0" height="17.82" fill="#000" fill-opacity="0.55"/><rect x="390.0" y="357.67" width="3.0" height="17.82" fill="#000" fill-opacity="0.55"/><rect x="404.9" y="357.67" width="3.0" height="17.82" fill="#000" fill-opacity="0.45"/><rect x="416.9" y="357.67" width="3.0" height="17.82" fill="#000" fill-opacity="0.35"/><rect x="427.3" y="357.67" width="3.0" height="17.82" fill="#000" fill-opacity="0.35"/><rect x="246.0" y="375.50" width="4.0" height="17.82" fill="#000" fill-opacity="0.90"/><rect x="259.5" y="375.50" width="4.0" height="17.82" fill="#000" fill-opacity="0.90"/><rect x="303.4" y="375.50" width="7.0" height="17.82" fill="#000" fill-opacity="1.00"/><rect x="315.6" y="375.50" width="5.0" height="17.82" fill="#000" fill-opacity="0.95"/><rect x="359.8" y="375.50" width="9.0" height="17.82" fill="#000" fill-opacity="1.00"/><rect x="371.2" y="375.50" width="3.0" height="17.82" fill="#000" fill-opacity="0.60"/><rect x="386.2" y="375.50" width="4.0" height="17.82" fill="#000" fill-opacity="0.85"/><rect x="402.1" y="375.50" width="3.0" height="17.82" fill="#000" fill-opacity="0.50"/><rect x="413.3" y="375.50" width="3.0" height="17.82" fill="#000" fill-opacity="0.40"/><rect x="424.5" y="375.50" width="3.0" height="17.82" fill="#000" fill-opacity="0.40"/><rect x="246.0" y="393.32" width="4.0" height="17.82" fill="#000" fill-opacity="0.85"/><rect x="258.6" y="393.32" width="4.0" height="17.82" fill="#000" fill-opacity="0.80"/><rect x="303.9" y="393.32" width="7.0" height="17.82" fill="#000" fill-opacity="1.00"/><rect x="315.6" y="393.32" width="5.0" height="17.82" fill="#000" fill-opacity="0.95"/><rect x="360.8" y="393.32" width="7.0" height="17.82" fill="#000" fill-opacity="1.00"/><rect x="371.2" y="393.32" width="3.0" height="17.82" fill="#000" fill-opacity="0.50"/><rect x="386.7" y="393.32" width="4.0" height="17.82" fill="#000" fill-opacity="0.80"/><rect x="402.1" y="393.32" width="3.0" height="17.82" fill="#000" fill-opacity="0.35"/><rect x="413.3" y="393.32" width="3.0" height="17.82" fill="#000" fill-opacity="0.30"/><rect x="424.5" y="393.32" width="3.0" height="17.82" fill="#000" fill-opacity="0.30"/><rect x="246.5" y="411.14" width="3.0" height="17.82" fill="#000" fill-opacity="0.60"/><rect x="259.5" y="411.14" width="4.0" height="17.82" fill="#000" fill-opacity="0.80"/><rect x="306.1" y="411.14" width="6.0" height="17.82" fill="#000" fill-opacity="1.00"/><rect x="316.7" y="411.14" width="4.0" height="17.82" fill="#000" fill-opacity="0.85"/><rect x="362.3" y="411.14" width="8.0" height="17.82" fill="#000" fill-opacity="1.00"/><rect x="373.2" y="411.14" width="3.0" height="17.82" fill="#000" fill-opacity="0.50"/><rect x="387.6" y="411.14" width="4.0" height="17.82" fill="#000" fill-opacity="0.85"/><rect x="403.5" y="411.14" width="3.0" height="17.82" fill="#000" fill-opacity="0.40"/><rect x="414.7" y="411.14" width="3.0" height="17.82" fill="#000" fill-opacity="0.25"/><rect x="425.9" y="411.14" width="3.0" height="17.82" fill="#000" fill-opacity="0.25"/><rect x="246.0" y="428.96" width="3.0" height="17.82" fill="#000" fill-opacity="0.45"/><rect x="259.7" y="428.96" width="3.0" height="17.82" fill="#000" fill-opacity="0.70"/><rect x="306.6" y="428.96" width="5.0" height="17.82" fill="#000" fill-opacity="0.95"/><rect x="316.6" y="428.96" width="3.0" height="17.82" fill="#000" fill-opacity="0.60"/><rect x="362.8" y="428.96" width="7.0" height="17.82" fill="#000" fill-opacity="1.00"/><rect x="373.2" y="428.96" width="3.0" height="17.82" fill="#000" fill-opacity="0.40"/><rect x="389.5" y="428.96" width="3.0" height="17.82" fill="#000" fill-opacity="0.45"/><rect x="404.9" y="428.96" width="3.0" height="17.82" fill="#000" fill-opacity="0.35"/><rect x="417.5" y="428.96" width="3.0" height="17.82" fill="#000" fill-opacity="0.20"/><rect x="427.3" y="428.96" width="3.0" height="17.82" fill="#000" fill-opacity="0.20"/><rect x="246.0" y="446.78" width="3.0" height="17.82" fill="#000" fill-opacity="0.45"/><rect x="259.7" y="446.78" width="3.0" height="17.82" fill="#000" fill-opacity="0.60"/><rect x="305.3" y="446.78" width="6.0" height="17.82" fill="#000" fill-opacity="0.95"/><rect x="316.0" y="446.78" width="3.0" height="17.82" fill="#000" fill-opacity="0.65"/><rect x="362.2" y="446.78" width="7.0" height="17.82" fill="#000" fill-opacity="1.00"/><rect x="372.6" y="446.78" width="3.0" height="17.82" fill="#000" fill-opacity="0.40"/><rect x="388.9" y="446.78" width="3.0" height="17.82" fill="#000" fill-opacity="0.50"/><rect x="404.3" y="446.78" width="3.0" height="17.82" fill="#000" fill-opacity="0.40"/><rect x="416.9" y="446.78" width="3.0" height="17.82" fill="#000" fill-opacity="0.25"/><rect x="427.3" y="446.78" width="3.0" height="17.82" fill="#000" fill-opacity="0.25"/><rect x="246.5" y="464.61" width="3.0" height="17.82" fill="#000" fill-opacity="0.35"/><rect x="260.5" y="464.61" width="3.0" height="17.82" fill="#000" fill-opacity="0.40"/><rect x="306.6" y="464.61" width="5.0" height="17.82" fill="#000" fill-opacity="0.95"/><rect x="317.2" y="464.61" width="3.0" height="17.82" fill="#000" fill-opacity="0.60"/><rect x="363.3" y="464.61" width="6.0" height="17.82" fill="#000" fill-opacity="1.00"/><rect x="373.5" y="464.61" width="3.0" height="17.82" fill="#000" fill-opacity="0.40"/><rect x="389.5" y="464.61" width="3.0" height="17.82" fill="#000" fill-opacity="0.50"/><rect x="404.9" y="464.61" width="3.0" height="17.82" fill="#000" fill-opacity="0.45"/><rect x="246.5" y="482.43" width="3.0" height="17.82" fill="#000" fill-opacity="0.40"/><rect x="260.5" y="482.43" width="3.0" height="17.82" fill="#000" fill-opacity="0.45"/><rect x="306.6" y="482.43" width="5.0" height="17.82" fill="#000" fill-opacity="0.95"/><rect x="317.2" y="482.43" width="3.0" height="17.82" fill="#000" fill-opacity="0.70"/><rect x="363.3" y="482.43" width="6.0" height="17.82" fill="#000" fill-opacity="1.00"/><rect x="373.5" y="482.43" width="3.0" height="17.82" fill="#000" fill-opacity="0.45"/><rect x="389.5" y="482.43" width="3.0" height="17.82" fill="#000" fill-opacity="0.50"/><rect x="404.9" y="482.43" width="3.0" height="17.82" fill="#000" fill-opacity="0.40"/><rect x="245.5" y="500.25" width="4.0" height="17.82" fill="#000" fill-opacity="0.60"/><rect x="259.5" y="500.25" width="4.0" height="17.82" fill="#000" fill-opacity="0.60"/><rect x="305.3" y="500.25" width="6.0" height="17.82" fill="#000" fill-opacity="1.00"/><rect x="316.7" y="500.25" width="4.0" height="17.82" fill="#000" fill-opacity="0.85"/><rect x="362.8" y="500.25" width="7.0" height="17.82" fill="#000" fill-opacity="1.00"/><rect x="372.7" y="500.25" width="4.0" height="17.82" fill="#000" fill-opacity="0.50"/><rect x="389.0" y="500.25" width="4.0" height="17.82" fill="#000" fill-opacity="0.55"/><rect x="404.9" y="500.25" width="3.0" height="17.82" fill="#000" fill-opacity="0.40"/><rect x="417.5" y="500.25" width="3.0" height="17.82" fill="#000" fill-opacity="0.30"/><rect x="427.3" y="500.25" width="3.0" height="17.82" fill="#000" fill-opacity="0.30"/><rect x="246.0" y="518.07" width="3.0" height="17.82" fill="#000" fill-opacity="0.30"/><rect x="259.1" y="518.07" width="3.0" height="17.82" fill="#000" fill-opacity="0.30"/><rect x="305.4" y="518.07" width="4.0" height="17.82" fill="#000" fill-opacity="0.85"/><rect x="316.6" y="518.07" width="3.0" height="17.82" fill="#000" fill-opacity="0.45"/><rect x="363.2" y="518.07" width="5.0" height="17.82" fill="#000" fill-opacity="0.95"/><rect x="372.6" y="518.07" width="3.0" height="17.82" fill="#000" fill-opacity="0.25"/><rect x="388.9" y="518.07" width="3.0" height="17.82" fill="#000" fill-opacity="0.30"/><rect x="404.3" y="518.07" width="3.0" height="17.82" fill="#000" fill-opacity="0.25"/><rect x="416.9" y="518.07" width="3.0" height="17.82" fill="#000" fill-opacity="0.15"/><rect x="427.3" y="518.07" width="3.0" height="17.82" fill="#000" fill-opacity="0.15"/><rect x="245.1" y="535.89" width="3.0" height="17.82" fill="#000" fill-opacity="0.15"/><rect x="258.6" y="535.89" width="3.0" height="17.82" fill="#000" fill-opacity="0.15"/><rect x="304.9" y="535.89" width="4.0" height="17.82" fill="#000" fill-opacity="0.35"/><rect x="316.0" y="535.89" width="3.0" height="17.82" fill="#000" fill-opacity="0.20"/><rect x="363.2" y="535.89" width="5.0" height="17.82" fill="#000" fill-opacity="0.50"/><rect x="372.1" y="535.89" width="3.0" height="17.82" fill="#000" fill-opacity="0.15"/><rect x="388.1" y="535.89" width="3.0" height="17.82" fill="#000" fill-opacity="0.20"/><rect x="403.5" y="535.89" width="3.0" height="17.82" fill="#000" fill-opacity="0.12"/><rect x="414.7" y="535.89" width="3.0" height="17.82" fill="#000" fill-opacity="0.08"/><rect x="425.9" y="535.89" width="3.0" height="17.82" fill="#000" fill-opacity="0.08"/><rect x="244.6" y="553.72" width="4.0" height="17.82" fill="#000" fill-opacity="0.50"/><rect x="259.2" y="553.72" width="4.0" height="17.82" fill="#000" fill-opacity="0.50"/><rect x="304.4" y="553.72" width="6.0" height="17.82" fill="#000" fill-opacity="0.85"/><rect x="316.6" y="553.72" width="3.0" height="17.82" fill="#000" fill-opacity="0.55"/><rect x="360.8" y="553.72" width="7.0" height="17.82" fill="#000" fill-opacity="0.90"/><rect x="372.1" y="553.72" width="3.0" height="17.82" fill="#000" fill-opacity="0.30"/><rect x="386.7" y="553.72" width="3.0" height="17.82" fill="#000" fill-opacity="0.35"/><rect x="402.1" y="553.72" width="3.0" height="17.82" fill="#000" fill-opacity="0.20"/><rect x="413.3" y="553.72" width="3.0" height="17.82" fill="#000" fill-opacity="0.12"/><rect x="425.9" y="553.72" width="3.0" height="17.82" fill="#000" fill-opacity="0.10"/><rect x="236.7" y="571.54" width="3.0" height="17.82" fill="#000" fill-opacity="0.10"/><rect x="246.0" y="571.54" width="3.0" height="17.82" fill="#000" fill-opacity="0.12"/><rect x="259.1" y="571.54" width="3.0" height="17.82" fill="#000" fill-opacity="0.15"/><rect x="305.8" y="571.54" width="5.0" height="17.82" fill="#000" fill-opacity="0.35"/><rect x="317.2" y="571.54" width="3.0" height="17.82" fill="#000" fill-opacity="0.30"/><rect x="364.6" y="571.54" width="5.0" height="17.82" fill="#000" fill-opacity="0.55"/><rect x="374.0" y="571.54" width="3.0" height="17.82" fill="#000" fill-opacity="0.12"/><rect x="389.5" y="571.54" width="3.0" height="17.82" fill="#000" fill-opacity="0.15"/><rect x="404.9" y="571.54" width="3.0" height="17.82" fill="#000" fill-opacity="0.10"/><rect x="417.5" y="571.54" width="3.0" height="17.82" fill="#000" fill-opacity="0.08"/><rect x="246.5" y="589.36" width="3.0" height="17.82" fill="#000" fill-opacity="0.30"/><rect x="260.5" y="589.36" width="3.0" height="17.82" fill="#000" fill-opacity="0.30"/><rect x="291.4" y="589.36" width="3.0" height="17.82" fill="#000" fill-opacity="0.30"/><rect x="307.6" y="589.36" width="3.0" height="17.82" fill="#000" fill-opacity="0.45"/><rect x="318.0" y="589.36" width="3.0" height="17.82" fill="#000" fill-opacity="0.50"/><rect x="364.6" y="589.36" width="5.0" height="17.82" fill="#000" fill-opacity="0.85"/><rect x="374.0" y="589.36" width="3.0" height="17.82" fill="#000" fill-opacity="0.35"/><rect x="389.5" y="589.36" width="3.0" height="17.82" fill="#000" fill-opacity="0.45"/><rect x="404.9" y="589.36" width="3.0" height="17.82" fill="#000" fill-opacity="0.30"/><rect x="417.5" y="589.36" width="3.0" height="17.82" fill="#000" fill-opacity="0.25"/><rect x="427.3" y="589.36" width="3.0" height="17.82" fill="#000" fill-opacity="0.20"/><rect x="245.1" y="607.18" width="3.0" height="17.82" fill="#000" fill-opacity="0.30"/><rect x="259.7" y="607.18" width="3.0" height="17.82" fill="#000" fill-opacity="0.25"/><rect x="290.8" y="607.18" width="3.0" height="17.82" fill="#000" fill-opacity="0.30"/><rect x="307.6" y="607.18" width="3.0" height="17.82" fill="#000" fill-opacity="0.30"/><rect x="317.2" y="607.18" width="3.0" height="17.82" fill="#000" fill-opacity="0.35"/><rect x="363.3" y="607.18" width="6.0" height="17.82" fill="#000" fill-opacity="0.60"/><rect x="372.1" y="607.18" width="3.0" height="17.82" fill="#000" fill-opacity="0.30"/><rect x="388.1" y="607.18" width="3.0" height="17.82" fill="#000" fill-opacity="0.20"/><rect x="403.5" y="607.18" width="3.0" height="17.82" fill="#000" fill-opacity="0.15"/><rect x="414.7" y="607.18" width="3.0" height="17.82" fill="#000" fill-opacity="0.10"/><rect x="246.0" y="625.00" width="4.0" height="17.82" fill="#000" fill-opacity="1.00"/><rect x="259.5" y="625.00" width="4.0" height="17.82" fill="#000" fill-opacity="1.00"/><rect x="291.2" y="625.00" width="4.5" height="17.82" fill="#000" fill-opacity="1.00"/><rect x="306.6" y="625.00" width="4.0" height="17.82" fill="#000" fill-opacity="1.00"/><rect x="315.8" y="625.00" width="4.5" height="17.82" fill="#000" fill-opacity="1.00"/><rect x="361.3" y="625.00" width="10.0" height="17.82" fill="#000" fill-opacity="1.00"/><rect x="374.0" y="625.00" width="3.0" height="17.82" fill="#000" fill-opacity="0.80"/><rect x="388.4" y="625.00" width="4.0" height="17.82" fill="#000" fill-opacity="0.70"/><rect x="404.3" y="625.00" width="3.0" height="17.82" fill="#000" fill-opacity="0.50"/><rect x="416.9" y="625.00" width="3.0" height="17.82" fill="#000" fill-opacity="0.45"/><rect x="427.3" y="625.00" width="3.0" height="17.82" fill="#000" fill-opacity="0.45"/><rect x="246.5" y="642.83" width="3.0" height="17.82" fill="#000" fill-opacity="0.30"/><rect x="260.5" y="642.83" width="3.0" height="17.82" fill="#000" fill-opacity="0.30"/><rect x="291.9" y="642.83" width="3.0" height="17.82" fill="#000" fill-opacity="0.30"/><rect x="307.6" y="642.83" width="3.0" height="17.82" fill="#000" fill-opacity="0.30"/><rect x="317.2" y="642.83" width="3.0" height="17.82" fill="#000" fill-opacity="0.35"/><rect x="365.7" y="642.83" width="4.0" height="17.82" fill="#000" fill-opacity="0.75"/><rect x="374.9" y="642.83" width="3.0" height="17.82" fill="#000" fill-opacity="0.30"/><rect x="392.3" y="642.83" width="3.0" height="17.82" fill="#000" fill-opacity="0.35"/><rect x="408.5" y="642.83" width="3.0" height="17.82" fill="#000" fill-opacity="0.25"/><rect x="420.3" y="642.83" width="3.0" height="17.82" fill="#000" fill-opacity="0.15"/><rect x="243.7" y="660.65" width="3.0" height="17.82" fill="#000" fill-opacity="0.25"/><rect x="247.9" y="660.65" width="3.0" height="17.82" fill="#000" fill-opacity="0.20"/><rect x="257.2" y="660.65" width="3.0" height="17.82" fill="#000" fill-opacity="0.25"/><rect x="277.4" y="660.65" width="3.0" height="17.82" fill="#000" fill-opacity="0.08"/><rect x="288.6" y="660.65" width="3.0" height="17.82" fill="#000" fill-opacity="0.25"/><rect x="305.4" y="660.65" width="3.0" height="17.82" fill="#000" fill-opacity="0.35"/><rect x="315.2" y="660.65" width="3.0" height="17.82" fill="#000" fill-opacity="0.40"/><rect x="357.5" y="660.65" width="8.0" height="17.82" fill="#000" fill-opacity="0.55"/><rect x="369.8" y="660.65" width="3.0" height="17.82" fill="#000" fill-opacity="0.20"/><rect x="386.7" y="660.65" width="3.0" height="17.82" fill="#000" fill-opacity="0.25"/><rect x="402.1" y="660.65" width="3.0" height="17.82" fill="#000" fill-opacity="0.20"/><rect x="414.7" y="660.65" width="3.0" height="17.82" fill="#000" fill-opacity="0.12"/><rect x="246.0" y="678.47" width="3.0" height="17.82" fill="#000" fill-opacity="0.40"/><rect x="260.0" y="678.47" width="3.0" height="17.82" fill="#000" fill-opacity="0.45"/><rect x="301.2" y="678.47" width="3.0" height="17.82" fill="#000" fill-opacity="0.45"/><rect x="307.6" y="678.47" width="3.0" height="17.82" fill="#000" fill-opacity="0.35"/><rect x="317.2" y="678.47" width="3.0" height="17.82" fill="#000" fill-opacity="0.55"/><rect x="362.7" y="678.47" width="5.0" height="17.82" fill="#000" fill-opacity="0.90"/><rect x="372.6" y="678.47" width="3.0" height="17.82" fill="#000" fill-opacity="0.30"/><rect x="387.5" y="678.47" width="3.0" height="17.82" fill="#000" fill-opacity="0.35"/><rect x="403.5" y="678.47" width="3.0" height="17.82" fill="#000" fill-opacity="0.20"/><rect x="416.1" y="678.47" width="3.0" height="17.82" fill="#000" fill-opacity="0.15"/><rect x="425.9" y="678.47" width="3.0" height="17.82" fill="#000" fill-opacity="0.15"/><rect x="245.1" y="696.29" width="3.0" height="17.82" fill="#000" fill-opacity="0.50"/><rect x="258.6" y="696.29" width="3.0" height="17.82" fill="#000" fill-opacity="0.50"/><rect x="299.8" y="696.29" width="3.0" height="17.82" fill="#000" fill-opacity="0.55"/><rect x="305.9" y="696.29" width="3.0" height="17.82" fill="#000" fill-opacity="0.45"/><rect x="316.6" y="696.29" width="3.0" height="17.82" fill="#000" fill-opacity="0.60"/><rect x="361.3" y="696.29" width="6.0" height="17.82" fill="#000" fill-opacity="0.95"/><rect x="372.1" y="696.29" width="3.0" height="17.82" fill="#000" fill-opacity="0.45"/><rect x="388.1" y="696.29" width="3.0" height="17.82" fill="#000" fill-opacity="0.45"/><rect x="405.7" y="696.29" width="3.0" height="17.82" fill="#000" fill-opacity="0.35"/><rect x="417.5" y="696.29" width="3.0" height="17.82" fill="#000" fill-opacity="0.30"/><rect x="427.3" y="696.29" width="3.0" height="17.82" fill="#000" fill-opacity="0.30"/><rect x="243.7" y="714.11" width="3.0" height="17.82" fill="#000" fill-opacity="0.35"/><rect x="259.1" y="714.11" width="3.0" height="17.82" fill="#000" fill-opacity="0.35"/><rect x="301.2" y="714.11" width="3.0" height="17.82" fill="#000" fill-opacity="0.40"/><rect x="307.6" y="714.11" width="3.0" height="17.82" fill="#000" fill-opacity="0.30"/><rect x="316.6" y="714.11" width="3.0" height="17.82" fill="#000" fill-opacity="0.40"/><rect x="359.4" y="714.11" width="7.0" height="17.82" fill="#000" fill-opacity="0.55"/><rect x="371.2" y="714.11" width="3.0" height="17.82" fill="#000" fill-opacity="0.25"/><rect x="386.1" y="714.11" width="3.0" height="17.82" fill="#000" fill-opacity="0.25"/><rect x="402.1" y="714.11" width="3.0" height="17.82" fill="#000" fill-opacity="0.20"/><rect x="414.7" y="714.11" width="3.0" height="17.82" fill="#000" fill-opacity="0.15"/><rect x="424.5" y="714.11" width="3.0" height="17.82" fill="#000" fill-opacity="0.12"/><rect x="242.7" y="731.94" width="5.0" height="17.82" fill="#000" fill-opacity="0.25"/><rect x="255.3" y="731.94" width="5.0" height="17.82" fill="#000" fill-opacity="0.25"/><rect x="300.2" y="731.94" width="5.0" height="17.82" fill="#000" fill-opacity="0.40"/><rect x="308.2" y="731.94" width="3.0" height="17.82" fill="#000" fill-opacity="0.30"/><rect x="316.6" y="731.94" width="3.0" height="17.82" fill="#000" fill-opacity="0.35"/><rect x="356.5" y="731.94" width="10.0" height="17.82" fill="#000" fill-opacity="0.50"/><rect x="371.2" y="731.94" width="3.0" height="17.82" fill="#000" fill-opacity="0.15"/><rect x="386.7" y="731.94" width="3.0" height="17.82" fill="#000" fill-opacity="0.15"/><rect x="245.5" y="749.76" width="4.0" height="17.82" fill="#000" fill-opacity="0.75"/><rect x="260.0" y="749.76" width="4.0" height="17.82" fill="#000" fill-opacity="0.75"/><rect x="300.7" y="749.76" width="4.0" height="17.82" fill="#000" fill-opacity="0.90"/><rect x="307.2" y="749.76" width="5.0" height="17.82" fill="#000" fill-opacity="0.80"/><rect x="316.7" y="749.76" width="4.0" height="17.82" fill="#000" fill-opacity="0.85"/><rect x="360.3" y="749.76" width="8.0" height="17.82" fill="#000" fill-opacity="1.00"/><rect x="372.6" y="749.76" width="3.0" height="17.82" fill="#000" fill-opacity="0.60"/><rect x="388.1" y="749.76" width="3.0" height="17.82" fill="#000" fill-opacity="0.55"/><rect x="404.3" y="749.76" width="3.0" height="17.82" fill="#000" fill-opacity="0.45"/><rect x="416.9" y="749.76" width="3.0" height="17.82" fill="#000" fill-opacity="0.35"/><rect x="427.3" y="749.76" width="3.0" height="17.82" fill="#000" fill-opacity="0.40"/><rect x="246.0" y="767.58" width="3.0" height="17.82" fill="#000" fill-opacity="0.45"/><rect x="260.0" y="767.58" width="3.0" height="17.82" fill="#000" fill-opacity="0.50"/><rect x="301.7" y="767.58" width="3.0" height="17.82" fill="#000" fill-opacity="0.60"/><rect x="308.7" y="767.58" width="3.0" height="17.82" fill="#000" fill-opacity="0.50"/><rect x="317.2" y="767.58" width="3.0" height="17.82" fill="#000" fill-opacity="0.65"/><rect x="361.3" y="767.58" width="6.0" height="17.82" fill="#000" fill-opacity="0.95"/><rect x="372.1" y="767.58" width="3.0" height="17.82" fill="#000" fill-opacity="0.35"/><rect x="387.5" y="767.58" width="3.0" height="17.82" fill="#000" fill-opacity="0.30"/><rect x="403.5" y="767.58" width="3.0" height="17.82" fill="#000" fill-opacity="0.25"/><rect x="414.7" y="767.58" width="3.0" height="17.82" fill="#000" fill-opacity="0.15"/><rect x="425.9" y="767.58" width="3.0" height="17.82" fill="#000" fill-opacity="0.15"/><rect x="246.0" y="785.40" width="3.0" height="17.82" fill="#000" fill-opacity="0.25"/><rect x="260.5" y="785.40" width="3.0" height="17.82" fill="#000" fill-opacity="0.30"/><rect x="295.6" y="785.40" width="3.0" height="17.82" fill="#000" fill-opacity="0.20"/><rect x="302.6" y="785.40" width="3.0" height="17.82" fill="#000" fill-opacity="0.30"/><rect x="308.7" y="785.40" width="3.0" height="17.82" fill="#000" fill-opacity="0.35"/><rect x="317.2" y="785.40" width="3.0" height="17.82" fill="#000" fill-opacity="0.40"/><rect x="363.2" y="785.40" width="5.0" height="17.82" fill="#000" fill-opacity="0.70"/><rect x="373.2" y="785.40" width="3.0" height="17.82" fill="#000" fill-opacity="0.25"/><rect x="388.1" y="785.40" width="3.0" height="17.82" fill="#000" fill-opacity="0.25"/><rect x="403.5" y="785.40" width="3.0" height="17.82" fill="#000" fill-opacity="0.20"/><rect x="418.1" y="785.40" width="3.0" height="17.82" fill="#000" fill-opacity="0.25"/><rect x="427.3" y="785.40" width="3.0" height="17.82" fill="#000" fill-opacity="0.10"/><rect x="246.0" y="803.22" width="3.0" height="17.82" fill="#000" fill-opacity="0.25"/><rect x="260.0" y="803.22" width="3.0" height="17.82" fill="#000" fill-opacity="0.25"/><rect x="301.2" y="803.22" width="3.0" height="17.82" fill="#000" fill-opacity="0.30"/><rect x="307.6" y="803.22" width="3.0" height="17.82" fill="#000" fill-opacity="0.30"/><rect x="316.6" y="803.22" width="3.0" height="17.82" fill="#000" fill-opacity="0.35"/><rect x="363.7" y="803.22" width="4.0" height="17.82" fill="#000" fill-opacity="0.55"/><rect x="372.1" y="803.22" width="3.0" height="17.82" fill="#000" fill-opacity="0.15"/><rect x="388.1" y="803.22" width="3.0" height="17.82" fill="#000" fill-opacity="0.20"/><rect x="403.5" y="803.22" width="3.0" height="17.82" fill="#000" fill-opacity="0.15"/><rect x="416.1" y="803.22" width="3.0" height="17.82" fill="#000" fill-opacity="0.10"/><rect x="425.9" y="803.22" width="3.0" height="17.82" fill="#000" fill-opacity="0.10"/><rect x="245.1" y="821.05" width="3.0" height="17.82" fill="#000" fill-opacity="0.40"/><rect x="258.6" y="821.05" width="3.0" height="17.82" fill="#000" fill-opacity="0.45"/><rect x="285.8" y="821.05" width="3.0" height="17.82" fill="#000" fill-opacity="0.50"/><rect x="306.8" y="821.05" width="3.0" height="17.82" fill="#000" fill-opacity="0.40"/><rect x="316.6" y="821.05" width="3.0" height="17.82" fill="#000" fill-opacity="0.50"/><rect x="362.4" y="821.05" width="5.0" height="17.82" fill="#000" fill-opacity="0.95"/><rect x="372.1" y="821.05" width="3.0" height="17.82" fill="#000" fill-opacity="0.30"/><rect x="386.7" y="821.05" width="3.0" height="17.82" fill="#000" fill-opacity="0.25"/><rect x="402.1" y="821.05" width="3.0" height="17.82" fill="#000" fill-opacity="0.20"/><rect x="413.3" y="821.05" width="3.0" height="17.82" fill="#000" fill-opacity="0.12"/><rect x="425.9" y="821.05" width="3.0" height="17.82" fill="#000" fill-opacity="0.12"/><rect x="246.0" y="838.87" width="3.0" height="17.82" fill="#000" fill-opacity="0.35"/><rect x="260.5" y="838.87" width="3.0" height="17.82" fill="#000" fill-opacity="0.40"/><rect x="287.7" y="838.87" width="3.0" height="17.82" fill="#000" fill-opacity="0.50"/><rect x="308.7" y="838.87" width="3.0" height="17.82" fill="#000" fill-opacity="0.40"/><rect x="318.0" y="838.87" width="3.0" height="17.82" fill="#000" fill-opacity="0.45"/><rect x="363.8" y="838.87" width="5.0" height="17.82" fill="#000" fill-opacity="0.90"/><rect x="373.5" y="838.87" width="3.0" height="17.82" fill="#000" fill-opacity="0.25"/><rect x="388.9" y="838.87" width="3.0" height="17.82" fill="#000" fill-opacity="0.25"/><rect x="404.3" y="838.87" width="3.0" height="17.82" fill="#000" fill-opacity="0.20"/><rect x="416.1" y="838.87" width="3.0" height="17.82" fill="#000" fill-opacity="0.15"/><rect x="427.3" y="838.87" width="3.0" height="17.82" fill="#000" fill-opacity="0.12"/><rect x="246.0" y="856.69" width="3.0" height="17.82" fill="#000" fill-opacity="0.35"/><rect x="260.0" y="856.69" width="3.0" height="17.82" fill="#000" fill-opacity="0.35"/><rect x="307.2" y="856.69" width="5.0" height="17.82" fill="#000" fill-opacity="0.50"/><rect x="318.0" y="856.69" width="3.0" height="17.82" fill="#000" fill-opacity="0.35"/><rect x="345.5" y="856.69" width="4.0" height="17.82" fill="#000" fill-opacity="0.30"/><rect x="363.2" y="856.69" width="5.0" height="17.82" fill="#000" fill-opacity="0.50"/><rect x="373.2" y="856.69" width="3.0" height="17.82" fill="#000" fill-opacity="0.25"/><rect x="388.9" y="856.69" width="3.0" height="17.82" fill="#000" fill-opacity="0.30"/><rect x="404.3" y="856.69" width="3.0" height="17.82" fill="#000" fill-opacity="0.20"/><rect x="416.9" y="856.69" width="3.0" height="17.82" fill="#000" fill-opacity="0.15"/><rect x="427.3" y="856.69" width="3.0" height="17.82" fill="#000" fill-opacity="0.15"/><rect x="246.0" y="874.51" width="3.0" height="17.82" fill="#000" fill-opacity="0.30"/><rect x="259.1" y="874.51" width="3.0" height="17.82" fill="#000" fill-opacity="0.35"/><rect x="304.9" y="874.51" width="5.0" height="17.82" fill="#000" fill-opacity="0.45"/><rect x="317.2" y="874.51" width="3.0" height="17.82" fill="#000" fill-opacity="0.30"/><rect x="343.1" y="874.51" width="5.0" height="17.82" fill="#000" fill-opacity="0.25"/><rect x="362.4" y="874.51" width="5.0" height="17.82" fill="#000" fill-opacity="0.45"/><rect x="372.1" y="874.51" width="3.0" height="17.82" fill="#000" fill-opacity="0.25"/><rect x="388.1" y="874.51" width="3.0" height="17.82" fill="#000" fill-opacity="0.30"/><rect x="403.5" y="874.51" width="3.0" height="17.82" fill="#000" fill-opacity="0.20"/><rect x="416.1" y="874.51" width="3.0" height="17.82" fill="#000" fill-opacity="0.15"/><rect x="427.3" y="874.51" width="3.0" height="17.82" fill="#000" fill-opacity="0.12"/><rect x="246.0" y="892.33" width="3.0" height="17.82" fill="#000" fill-opacity="0.35"/><rect x="259.1" y="892.33" width="3.0" height="17.82" fill="#000" fill-opacity="0.35"/><rect x="306.8" y="892.33" width="3.0" height="17.82" fill="#000" fill-opacity="0.45"/><rect x="316.6" y="892.33" width="3.0" height="17.82" fill="#000" fill-opacity="0.30"/><rect x="346.9" y="892.33" width="3.0" height="17.82" fill="#000" fill-opacity="0.30"/><rect x="363.2" y="892.33" width="5.0" height="17.82" fill="#000" fill-opacity="0.55"/><rect x="372.6" y="892.33" width="3.0" height="17.82" fill="#000" fill-opacity="0.25"/><rect x="388.1" y="892.33" width="3.0" height="17.82" fill="#000" fill-opacity="0.30"/><rect x="402.1" y="892.33" width="3.0" height="17.82" fill="#000" fill-opacity="0.20"/><rect x="416.1" y="892.33" width="3.0" height="17.82" fill="#000" fill-opacity="0.12"/><rect x="427.3" y="892.33" width="3.0" height="17.82" fill="#000" fill-opacity="0.10"/><rect x="246.0" y="910.16" width="4.0" height="17.82" fill="#000" fill-opacity="0.70"/><rect x="259.5" y="910.16" width="4.0" height="17.82" fill="#000" fill-opacity="0.70"/><rect x="304.8" y="910.16" width="7.0" height="17.82" fill="#000" fill-opacity="1.00"/><rect x="316.7" y="910.16" width="4.0" height="17.82" fill="#000" fill-opacity="0.95"/><rect x="323.1" y="910.16" width="4.0" height="17.82" fill="#000" fill-opacity="0.90"/><rect x="346.4" y="910.16" width="4.0" height="17.82" fill="#000" fill-opacity="0.80"/><rect x="363.2" y="910.16" width="5.0" height="17.82" fill="#000" fill-opacity="0.90"/><rect x="371.6" y="910.16" width="4.0" height="17.82" fill="#000" fill-opacity="0.85"/><rect x="404.9" y="910.16" width="3.0" height="17.82" fill="#000" fill-opacity="0.55"/><rect x="416.9" y="910.16" width="3.0" height="17.82" fill="#000" fill-opacity="0.40"/><rect x="425.9" y="910.16" width="3.0" height="17.82" fill="#000" fill-opacity="0.40"/><rect x="243.7" y="927.98" width="3.0" height="17.82" fill="#000" fill-opacity="0.40"/><rect x="257.7" y="927.98" width="3.0" height="17.82" fill="#000" fill-opacity="0.40"/><rect x="303.0" y="927.98" width="5.0" height="17.82" fill="#000" fill-opacity="0.70"/><rect x="315.2" y="927.98" width="3.0" height="17.82" fill="#000" fill-opacity="0.50"/><rect x="321.6" y="927.98" width="3.0" height="17.82" fill="#000" fill-opacity="0.40"/><rect x="361.8" y="927.98" width="5.0" height="17.82" fill="#000" fill-opacity="0.60"/><rect x="372.1" y="927.98" width="3.0" height="17.82" fill="#000" fill-opacity="0.35"/><rect x="403.5" y="927.98" width="3.0" height="17.82" fill="#000" fill-opacity="0.25"/><rect x="417.5" y="927.98" width="3.0" height="17.82" fill="#000" fill-opacity="0.15"/><rect x="425.9" y="927.98" width="3.0" height="17.82" fill="#000" fill-opacity="0.12"/><rect x="246.5" y="945.80" width="3.0" height="17.82" fill="#000" fill-opacity="0.50"/><rect x="260.0" y="945.80" width="3.0" height="17.82" fill="#000" fill-opacity="0.55"/><rect x="291.4" y="945.80" width="4.0" height="17.82" fill="#000" fill-opacity="0.65"/><rect x="307.1" y="945.80" width="4.0" height="17.82" fill="#000" fill-opacity="0.90"/><rect x="316.7" y="945.80" width="4.0" height="17.82" fill="#000" fill-opacity="0.85"/><rect x="323.1" y="945.80" width="4.0" height="17.82" fill="#000" fill-opacity="0.80"/><rect x="363.6" y="945.80" width="7.0" height="17.82" fill="#000" fill-opacity="1.00"/><rect x="373.0" y="945.80" width="4.0" height="17.82" fill="#000" fill-opacity="0.70"/><rect x="404.9" y="945.80" width="3.0" height="17.82" fill="#000" fill-opacity="0.50"/><rect x="416.9" y="945.80" width="3.0" height="17.82" fill="#000" fill-opacity="0.40"/><rect x="427.3" y="945.80" width="3.0" height="17.82" fill="#000" fill-opacity="0.40"/><rect x="246.0" y="963.62" width="3.0" height="17.82" fill="#000" fill-opacity="0.40"/><rect x="251.6" y="963.62" width="3.0" height="17.82" fill="#000" fill-opacity="0.30"/><rect x="306.1" y="963.62" width="6.0" height="17.82" fill="#000" fill-opacity="0.80"/><rect x="317.2" y="963.62" width="3.0" height="17.82" fill="#000" fill-opacity="0.55"/><rect x="363.3" y="963.62" width="6.0" height="17.82" fill="#000" fill-opacity="0.95"/><rect x="372.6" y="963.62" width="3.0" height="17.82" fill="#000" fill-opacity="0.35"/><rect x="390.0" y="963.62" width="3.0" height="17.82" fill="#000" fill-opacity="0.35"/><rect x="405.7" y="963.62" width="3.0" height="17.82" fill="#000" fill-opacity="0.25"/><rect x="417.5" y="963.62" width="3.0" height="17.82" fill="#000" fill-opacity="0.20"/><rect x="427.3" y="963.62" width="3.0" height="17.82" fill="#000" fill-opacity="0.20"/><rect x="246.5" y="981.44" width="3.0" height="17.82" fill="#000" fill-opacity="0.25"/><rect x="251.1" y="981.44" width="5.0" height="17.82" fill="#000" fill-opacity="0.35"/><rect x="306.6" y="981.44" width="5.0" height="17.82" fill="#000" fill-opacity="1.00"/><rect x="316.7" y="981.44" width="4.0" height="17.82" fill="#000" fill-opacity="0.80"/><rect x="363.1" y="981.44" width="8.0" height="17.82" fill="#000" fill-opacity="1.00"/><rect x="373.5" y="981.44" width="3.0" height="17.82" fill="#000" fill-opacity="0.60"/><rect x="387.6" y="981.44" width="4.0" height="17.82" fill="#000" fill-opacity="0.70"/><rect x="404.9" y="981.44" width="3.0" height="17.82" fill="#000" fill-opacity="0.40"/><rect x="416.1" y="981.44" width="3.0" height="17.82" fill="#000" fill-opacity="0.30"/><rect x="425.9" y="981.44" width="3.0" height="17.82" fill="#000" fill-opacity="0.30"/><rect x="246.5" y="999.27" width="3.0" height="17.82" fill="#000" fill-opacity="0.30"/><rect x="251.6" y="999.27" width="3.0" height="17.82" fill="#000" fill-opacity="0.30"/><rect x="305.8" y="999.27" width="5.0" height="17.82" fill="#000" fill-opacity="0.95"/><rect x="316.1" y="999.27" width="4.0" height="17.82" fill="#000" fill-opacity="0.70"/><rect x="362.8" y="999.27" width="7.0" height="17.82" fill="#000" fill-opacity="1.00"/><rect x="373.5" y="999.27" width="3.0" height="17.82" fill="#000" fill-opacity="0.50"/><rect x="389.5" y="999.27" width="4.0" height="17.82" fill="#000" fill-opacity="0.65"/><rect x="404.9" y="999.27" width="3.0" height="17.82" fill="#000" fill-opacity="0.50"/><rect x="417.5" y="999.27" width="3.0" height="17.82" fill="#000" fill-opacity="0.40"/><rect x="427.3" y="999.27" width="3.0" height="17.82" fill="#000" fill-opacity="0.40"/><rect x="246.0" y="1017.09" width="3.0" height="17.82" fill="#000" fill-opacity="0.35"/><rect x="252.1" y="1017.09" width="3.0" height="17.82" fill="#000" fill-opacity="0.25"/><rect x="260.5" y="1017.09" width="3.0" height="17.82" fill="#000" fill-opacity="0.10"/><rect x="301.7" y="1017.09" width="3.0" height="17.82" fill="#000" fill-opacity="0.30"/><rect x="308.7" y="1017.09" width="3.0" height="17.82" fill="#000" fill-opacity="0.30"/><rect x="318.0" y="1017.09" width="3.0" height="17.82" fill="#000" fill-opacity="0.45"/><rect x="364.6" y="1017.09" width="5.0" height="17.82" fill="#000" fill-opacity="0.95"/><rect x="373.5" y="1017.09" width="3.0" height="17.82" fill="#000" fill-opacity="0.30"/><rect x="389.5" y="1017.09" width="3.0" height="17.82" fill="#000" fill-opacity="0.30"/><rect x="404.9" y="1017.09" width="3.0" height="17.82" fill="#000" fill-opacity="0.20"/><rect x="416.9" y="1017.09" width="3.0" height="17.82" fill="#000" fill-opacity="0.15"/><rect x="427.3" y="1017.09" width="3.0" height="17.82" fill="#000" fill-opacity="0.12"/><rect x="246.0" y="1034.91" width="3.0" height="17.82" fill="#000" fill-opacity="0.40"/><rect x="251.6" y="1034.91" width="3.0" height="17.82" fill="#000" fill-opacity="0.30"/><rect x="300.1" y="1034.91" width="4.0" height="17.82" fill="#000" fill-opacity="0.65"/><rect x="318.0" y="1034.91" width="3.0" height="17.82" fill="#000" fill-opacity="0.45"/><rect x="363.7" y="1034.91" width="4.0" height="17.82" fill="#000" fill-opacity="0.70"/><rect x="372.6" y="1034.91" width="3.0" height="17.82" fill="#000" fill-opacity="0.20"/><rect x="388.1" y="1034.91" width="3.0" height="17.82" fill="#000" fill-opacity="0.30"/><rect x="404.3" y="1034.91" width="3.0" height="17.82" fill="#000" fill-opacity="0.25"/><rect x="416.9" y="1034.91" width="3.0" height="17.82" fill="#000" fill-opacity="0.20"/><rect x="427.3" y="1034.91" width="3.0" height="17.82" fill="#000" fill-opacity="0.20"/><rect x="246.0" y="1052.73" width="4.0" height="17.82" fill="#000" fill-opacity="0.60"/><rect x="260.0" y="1052.73" width="3.0" height="17.82" fill="#000" fill-opacity="0.50"/><rect x="291.4" y="1052.73" width="4.0" height="17.82" fill="#000" fill-opacity="0.70"/><rect x="301.6" y="1052.73" width="5.0" height="17.82" fill="#000" fill-opacity="0.90"/><rect x="316.1" y="1052.73" width="4.0" height="17.82" fill="#000" fill-opacity="0.90"/><rect x="362.3" y="1052.73" width="8.0" height="17.82" fill="#000" fill-opacity="1.00"/><rect x="373.5" y="1052.73" width="3.0" height="17.82" fill="#000" fill-opacity="0.60"/><rect x="389.5" y="1052.73" width="3.0" height="17.82" fill="#000" fill-opacity="0.55"/><rect x="404.9" y="1052.73" width="3.0" height="17.82" fill="#000" fill-opacity="0.50"/><rect x="417.5" y="1052.73" width="3.0" height="17.82" fill="#000" fill-opacity="0.40"/><rect x="428.1" y="1052.73" width="3.0" height="17.82" fill="#000" fill-opacity="0.45"/><rect x="253.0" y="1070.55" width="4.0" height="17.82" fill="#000" fill-opacity="0.45"/><rect x="258.6" y="1070.55" width="3.0" height="17.82" fill="#000" fill-opacity="0.40"/><rect x="300.1" y="1070.55" width="4.0" height="17.82" fill="#000" fill-opacity="0.60"/><rect x="307.2" y="1070.55" width="5.0" height="17.82" fill="#000" fill-opacity="0.60"/><rect x="317.5" y="1070.55" width="4.0" height="17.82" fill="#000" fill-opacity="0.60"/><rect x="359.5" y="1070.55" width="8.0" height="17.82" fill="#000" fill-opacity="0.85"/><rect x="371.2" y="1070.55" width="3.0" height="17.82" fill="#000" fill-opacity="0.30"/><rect x="385.7" y="1070.55" width="5.0" height="17.82" fill="#000" fill-opacity="0.40"/><rect x="402.1" y="1070.55" width="3.0" height="17.82" fill="#000" fill-opacity="0.30"/><rect x="413.3" y="1070.55" width="3.0" height="17.82" fill="#000" fill-opacity="0.20"/><rect x="424.5" y="1070.55" width="3.0" height="17.82" fill="#000" fill-opacity="0.15"/><rect x="251.6" y="1088.38" width="3.0" height="17.82" fill="#000" fill-opacity="0.35"/><rect x="257.7" y="1088.38" width="3.0" height="17.82" fill="#000" fill-opacity="0.35"/><rect x="280.7" y="1088.38" width="3.0" height="17.82" fill="#000" fill-opacity="0.45"/><rect x="305.4" y="1088.38" width="3.0" height="17.82" fill="#000" fill-opacity="0.30"/><rect x="316.0" y="1088.38" width="3.0" height="17.82" fill="#000" fill-opacity="0.50"/><rect x="323.6" y="1088.38" width="3.0" height="17.82" fill="#000" fill-opacity="0.45"/><rect x="360.4" y="1088.38" width="5.0" height="17.82" fill="#000" fill-opacity="0.65"/><rect x="393.7" y="1088.38" width="3.0" height="17.82" fill="#000" fill-opacity="0.25"/><rect x="403.5" y="1088.38" width="3.0" height="17.82" fill="#000" fill-opacity="0.35"/><rect x="414.7" y="1088.38" width="3.0" height="17.82" fill="#000" fill-opacity="0.15"/><rect x="424.5" y="1088.38" width="3.0" height="17.82" fill="#000" fill-opacity="0.15"/><rect x="243.2" y="1106.20" width="3.0" height="17.82" fill="#000" fill-opacity="0.40"/><rect x="261.1" y="1106.20" width="3.0" height="17.82" fill="#000" fill-opacity="0.40"/><rect x="288.6" y="1106.20" width="3.0" height="17.82" fill="#000" fill-opacity="0.45"/><rect x="302.0" y="1106.20" width="3.0" height="17.82" fill="#000" fill-opacity="0.50"/><rect x="306.6" y="1106.20" width="5.0" height="17.82" fill="#000" fill-opacity="0.55"/><rect x="339.0" y="1106.20" width="3.0" height="17.82" fill="#000" fill-opacity="0.55"/><rect x="351.6" y="1106.20" width="3.0" height="17.82" fill="#000" fill-opacity="0.40"/><rect x="369.8" y="1106.20" width="3.0" height="17.82" fill="#000" fill-opacity="0.50"/><rect x="379.7" y="1106.20" width="3.0" height="17.82" fill="#000" fill-opacity="0.45"/><rect x="406.3" y="1106.20" width="3.0" height="17.82" fill="#000" fill-opacity="0.25"/><rect x="418.9" y="1106.20" width="3.0" height="17.82" fill="#000" fill-opacity="0.20"/><rect x="427.3" y="1106.20" width="3.0" height="17.82" fill="#000" fill-opacity="0.20"/></g><path d="M311.6 546.6L313.6 544.6L315.2 544.2L317 546.4L316.4 547.6L315.3 547.2L315 549L314 549L313.6 547.4L312.2 547.8Z" fill="#0a0a0a"/></g>
<g font-family="'Liberation Serif',serif" font-size="11.4" fill="#1a1a1a"><text x="446.0" y="45.2">Samplenr</text><text x="516.8" y="45.2" textLength="39.2" lengthAdjust="spacingAndGlyphs"><tspan font-style="italic">Spa</tspan>-type</text><text x="584.6" y="45.2">PFGE</text><text x="625.5" y="45.2">SCC<tspan font-style="italic">mec</tspan></text><text x="700.6" y="45.2">State</text></g>
<g font-size="10.8" fill="#111"><text y="66.0"><tspan x="442.9">1110800851</tspan><tspan x="531">t011</tspan><tspan x="597.4">A1</tspan><tspan x="649">V</tspan><tspan x="714.6">Limburg</tspan></text><text y="83.8"><tspan x="442.9">1110800872</tspan><tspan x="531">t011</tspan><tspan x="597.4">A2</tspan><tspan x="649">V</tspan><tspan x="714.6">Overijssel</tspan></text><text y="101.6"><tspan x="442.9">1110800195</tspan><tspan x="531">t011</tspan><tspan x="597.4">A3</tspan><tspan x="649">V</tspan><tspan x="714.6">Brabant</tspan></text><text y="119.5"><tspan x="442.9">1110800151</tspan><tspan x="531">t011</tspan><tspan x="597.4">B1</tspan><tspan x="649">IV</tspan><tspan x="714.6">Brabant</tspan></text><text y="137.3"><tspan x="442.9">1110800548</tspan><tspan x="531">t011</tspan><tspan x="597.4">B1</tspan><tspan x="649">IV</tspan><tspan x="714.6">Utrecht</tspan></text><text y="155.1"><tspan x="442.9">1110800575</tspan><tspan x="531">t011</tspan><tspan x="597.4">B1</tspan><tspan x="649">IV</tspan><tspan x="714.6">Utrecht</tspan></text><text y="172.9"><tspan x="442.9">1110801332</tspan><tspan x="531">t011</tspan><tspan x="597.4">B1</tspan><tspan x="649">IV</tspan><tspan x="714.6">Brabant</tspan></text><text y="190.8"><tspan x="442.9">1110806305</tspan><tspan x="531">t011</tspan><tspan x="597.4">B1</tspan><tspan x="649">IV</tspan><tspan x="714.6">Zuid-Holland</tspan></text><text y="208.6"><tspan x="442.9">1110800966</tspan><tspan x="531">t011</tspan><tspan x="597.4">B2</tspan><tspan x="649">IV</tspan><tspan x="714.6">Overijssel</tspan></text><text y="226.4"><tspan x="442.9">1110800621</tspan><tspan x="531">t011</tspan><tspan x="597.4">B3</tspan><tspan x="649">IV</tspan><tspan x="714.6">Zuid-Holland</tspan></text><text y="244.2"><tspan x="442.9">1110801910</tspan><tspan x="531">t011</tspan><tspan x="597.4">B3</tspan><tspan x="649">IV</tspan><tspan x="714.6">Gelderland</tspan></text><text y="262.0"><tspan x="442.9">1110804282</tspan><tspan x="531">t011</tspan><tspan x="597.4">B3</tspan><tspan x="649">IV</tspan><tspan x="714.6">Flevoland</tspan></text><text y="279.9"><tspan x="442.9">1110807582</tspan><tspan x="531">t011</tspan><tspan x="597.4">B3</tspan><tspan x="649">IV</tspan><tspan x="714.6">Gelderland</tspan></text><text y="297.7"><tspan x="442.9">1110807665</tspan><tspan x="531">t011</tspan><tspan x="597.4">B3</tspan><tspan x="649">IV</tspan><tspan x="714.6">Gelderland</tspan></text><text y="315.5"><tspan x="442.9">1110801230</tspan><tspan x="531">t011</tspan><tspan x="597.4">B4</tspan><tspan x="649">IV</tspan><tspan x="714.6">Zuid-Holland</tspan></text><text y="333.3"><tspan x="442.9">1110802856</tspan><tspan x="531">t011</tspan><tspan x="597.4">C</tspan><tspan x="649">IV</tspan><tspan x="714.6">Groningen</tspan></text><text y="351.2"><tspan x="442.9">1110800448</tspan><tspan x="531">t108</tspan><tspan x="597.4">D1</tspan><tspan x="649">V</tspan><tspan x="714.6">Brabant</tspan></text><text y="369.0"><tspan x="442.9">1110800503</tspan><tspan x="531">t108</tspan><tspan x="597.4">D1</tspan><tspan x="649">V</tspan><tspan x="714.6">Gelderland</tspan></text><text y="386.8"><tspan x="442.9">1110800626</tspan><tspan x="531">t108</tspan><tspan x="597.4">D1</tspan><tspan x="649">V</tspan><tspan x="714.6">Zeeland</tspan></text><text y="404.6"><tspan x="442.9">1110800899</tspan><tspan x="531">t108</tspan><tspan x="597.4">D1</tspan><tspan x="649">V</tspan><tspan x="714.6">Brabant</tspan></text><text y="422.4"><tspan x="442.9">1110801122</tspan><tspan x="531">t108</tspan><tspan x="597.4">D1</tspan><tspan x="649">V</tspan><tspan x="714.6">Brabant</tspan></text><text y="440.3"><tspan x="442.9">1110802125</tspan><tspan x="531">t108</tspan><tspan x="597.4">D1</tspan><tspan x="649">V</tspan><tspan x="714.6">Gelderland</tspan></text><text y="458.1"><tspan x="442.9">1110802479</tspan><tspan x="531">t108</tspan><tspan x="597.4">D1</tspan><tspan x="649">V</tspan><tspan x="714.6">Brabant</tspan></text><text y="475.9"><tspan x="442.9">1110803759</tspan><tspan x="531">t108</tspan><tspan x="597.4">D1</tspan><tspan x="649">V</tspan><tspan x="714.6">Brabant</tspan></text><text y="493.7"><tspan x="442.9">1110804256</tspan><tspan x="531">t108</tspan><tspan x="597.4">D1</tspan><tspan x="649">V</tspan><tspan x="714.6">Gelderland</tspan></text><text y="511.5"><tspan x="442.9">1110804365</tspan><tspan x="531">t108</tspan><tspan x="597.4">D1</tspan><tspan x="649">V</tspan><tspan x="714.6">Brabant</tspan></text><text y="529.4"><tspan x="442.9">1110804500</tspan><tspan x="531">t108</tspan><tspan x="597.4">D1</tspan><tspan x="649">V</tspan><tspan x="714.6">Brabant</tspan></text><text y="547.2"><tspan x="442.9">1110805164</tspan><tspan x="531">t108</tspan><tspan x="597.4">D1</tspan><tspan x="649">V</tspan><tspan x="714.6">Limburg</tspan></text><text y="565.0"><tspan x="442.9">1110806708</tspan><tspan x="531">t011</tspan><tspan x="597.4">D1</tspan><tspan x="649">V</tspan><tspan x="714.6">Brabant</tspan></text><text y="582.8"><tspan x="442.9">1110805513</tspan><tspan x="531">t108</tspan><tspan x="597.4">D2</tspan><tspan x="649">V</tspan><tspan x="714.6">Limburg</tspan></text><text y="600.7"><tspan x="442.9">1110800055</tspan><tspan x="531">t108</tspan><tspan x="597.4">D3</tspan><tspan x="649">V</tspan><tspan x="714.6">Brabant</tspan></text><text y="618.5"><tspan x="442.9">1110800791</tspan><tspan x="531">t011</tspan><tspan x="597.4">D3</tspan><tspan x="649">V</tspan><tspan x="714.6">Gelderland</tspan></text><text y="636.3"><tspan x="442.9">1110801223</tspan><tspan x="531">t108</tspan><tspan x="597.4">D3</tspan><tspan x="649">V</tspan><tspan x="714.6">Overijssel</tspan></text><text y="654.1"><tspan x="442.9">1110802568</tspan><tspan x="531">t108</tspan><tspan x="597.4">D3</tspan><tspan x="649">V</tspan><tspan x="714.6">Gelderland</tspan></text><text y="671.9"><tspan x="442.9">1110805168</tspan><tspan x="531">t011</tspan><tspan x="597.4">D3</tspan><tspan x="649">V</tspan><tspan x="714.6">Limburg</tspan></text><text y="689.8"><tspan x="442.9">1110802246</tspan><tspan x="531">t011</tspan><tspan x="597.4">D4</tspan><tspan x="649">V</tspan><tspan x="714.6">Gelderland</tspan></text><text y="707.6"><tspan x="442.9">1110804639</tspan><tspan x="531">t108</tspan><tspan x="597.4">D4</tspan><tspan x="649">V</tspan><tspan x="714.6">Gelderland</tspan></text><text y="725.4"><tspan x="442.9">1110805612</tspan><tspan x="531">t011</tspan><tspan x="597.4">D4</tspan><tspan x="649">V</tspan><tspan x="714.6">Noord-Holland</tspan></text><text y="743.2"><tspan x="442.9">1110806174</tspan><tspan x="531">t011</tspan><tspan x="597.4">D4</tspan><tspan x="649">V</tspan><tspan x="714.6">Zeeland</tspan></text><text y="761.1"><tspan x="442.9">1110806777</tspan><tspan x="531">t011</tspan><tspan x="597.4">D4</tspan><tspan x="649">V</tspan><tspan x="714.6">Overijssel</tspan></text><text y="778.9"><tspan x="442.9">1110807570</tspan><tspan x="531">t011</tspan><tspan x="597.4">D4</tspan><tspan x="649">V</tspan><tspan x="714.6">Overijssel</tspan></text><text y="796.7"><tspan x="442.9">1110801952</tspan><tspan x="531">t011</tspan><tspan x="597.4">D5</tspan><tspan x="649">V</tspan><tspan x="714.6">Brabant</tspan></text><text y="814.5"><tspan x="442.9">1110804767</tspan><tspan x="531">t108</tspan><tspan x="597.4">D6</tspan><tspan x="649">V</tspan><tspan x="714.6">Limburg</tspan></text><text y="832.3"><tspan x="442.9">1110800640</tspan><tspan x="531">t011</tspan><tspan x="597.4">D7</tspan><tspan x="649">V</tspan><tspan x="714.6">Brabant</tspan></text><text y="850.2"><tspan x="442.9">1110801331</tspan><tspan x="531">t011</tspan><tspan x="597.4">D7</tspan><tspan x="649">V</tspan><tspan x="714.6">Gelderland</tspan></text><text y="868.0"><tspan x="442.9">1110805982</tspan><tspan x="531">t108</tspan><tspan x="597.4">D8</tspan><tspan x="649">V</tspan><tspan x="714.6">Brabant</tspan></text><text y="885.8"><tspan x="442.9">1110807329</tspan><tspan x="531">t108</tspan><tspan x="597.4">D8</tspan><tspan x="649">V</tspan><tspan x="714.6">Brabant</tspan></text><text y="903.6"><tspan x="442.9">1110806164</tspan><tspan x="531">t108</tspan><tspan x="597.4">D9</tspan><tspan x="649">V</tspan><tspan x="714.6">Brabant</tspan></text><text y="921.5"><tspan x="442.9">1110800506</tspan><tspan x="531">t108</tspan><tspan x="597.4">D10</tspan><tspan x="649">V *</tspan><tspan x="714.6">Overijssel</tspan></text><text y="939.3"><tspan x="442.9">1110805611</tspan><tspan x="531">t108</tspan><tspan x="597.4">D11</tspan><tspan x="649">V *</tspan><tspan x="714.6">Utrecht</tspan></text><text y="957.1"><tspan x="442.9">1110803440</tspan><tspan x="531">t108</tspan><tspan x="597.4">D12</tspan><tspan x="649">V *</tspan><tspan x="714.6">Overijssel</tspan></text><text y="974.9"><tspan x="442.9">1110800490</tspan><tspan x="531">t108</tspan><tspan x="597.4">D13</tspan><tspan x="649">V</tspan><tspan x="714.6">Gelderland</tspan></text><text y="992.7"><tspan x="442.9">1110801166</tspan><tspan x="531">t108</tspan><tspan x="597.4">D13</tspan><tspan x="649">V</tspan><tspan x="714.6">Brabant</tspan></text><text y="1010.6"><tspan x="442.9">1110804637</tspan><tspan x="531">t108</tspan><tspan x="597.4">D13</tspan><tspan x="649">V</tspan><tspan x="714.6">Gelderland</tspan></text><text y="1028.4"><tspan x="442.9">1110802165</tspan><tspan x="531">t011</tspan><tspan x="597.4">D14</tspan><tspan x="649">V</tspan><tspan x="714.6">Friesland</tspan></text><text y="1046.2"><tspan x="442.9">1110807225</tspan><tspan x="531">t108</tspan><tspan x="597.4">D15</tspan><tspan x="649">V</tspan><tspan x="714.6">Brabant</tspan></text><text y="1064.0"><tspan x="442.9">1110802550</tspan><tspan x="531">t108</tspan><tspan x="597.4">E1</tspan><tspan x="649">V</tspan><tspan x="714.6">Brabant</tspan></text><text y="1081.9"><tspan x="442.9">1110806418</tspan><tspan x="531">t011</tspan><tspan x="597.4">F</tspan><tspan x="649">V</tspan><tspan x="714.6">Groningen</tspan></text><text y="1099.7"><tspan x="442.9">1110800054</tspan><tspan x="531">t011</tspan><tspan x="597.4">G</tspan><tspan x="649">IV</tspan><tspan x="714.6">Limburg</tspan></text><text y="1117.5"><tspan x="442.9">1110806179</tspan><tspan x="531">t108</tspan><tspan x="597.4">H</tspan><tspan x="649">V</tspan><tspan x="714.6">Zuid-Holland</tspan></text></g>
<g fill="none" stroke="#161616" stroke-width="1"><rect x="525.5" y="58.5" width="30.0" height="276.5"/><rect x="525.5" y="555.5" width="30.0" height="15.0"/><rect x="525.5" y="608.0" width="30.0" height="15.0"/><rect x="525.0" y="662.5" width="30.5" height="29.5"/><rect x="524.5" y="716.0" width="30.0" height="82.5"/><rect x="525.5" y="824.0" width="31.0" height="29.5"/><rect x="525.0" y="1017.5" width="30.5" height="15.5"/><rect x="525.5" y="1072.5" width="31.0" height="29.5"/></g>
</svg>
</body></html>
